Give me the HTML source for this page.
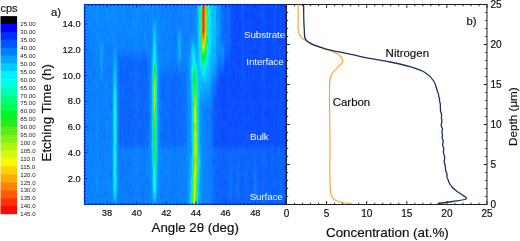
<!DOCTYPE html>
<html lang="en">
<head>
<meta charset="utf-8">
<title>XRD depth profile</title>
<style>
html,body{margin:0;padding:0;background:#fff}
body{width:520px;height:241px;overflow:hidden}
svg{display:block}
svg text{font-family:"Liberation Sans",sans-serif}
.k text,text.k{stroke:#111;stroke-width:.18px}
</style>
</head>
<body>
<svg width="520" height="241" viewBox="0 0 520 241">
<rect width="520" height="241" fill="#fff"/>
<defs><linearGradient id="c0" x1="0" y1="0" x2="0" y2="1"><stop offset=".002" stop-color="#0c90ff"/><stop offset=".321" stop-color="#0c84ff"/><stop offset=".998" stop-color="#0c8bff"/></linearGradient><linearGradient id="c1" x1="0" y1="0" x2="0" y2="1"><stop offset=".002" stop-color="#0c8fff"/><stop offset=".301" stop-color="#0c83ff"/><stop offset=".998" stop-color="#0c89ff"/></linearGradient><linearGradient id="c2" x1="0" y1="0" x2="0" y2="1"><stop offset=".002" stop-color="#0c8cff"/><stop offset=".306" stop-color="#0c80ff"/><stop offset=".998" stop-color="#0c86ff"/></linearGradient><linearGradient id="c3" x1="0" y1="0" x2="0" y2="1"><stop offset=".002" stop-color="#0c8aff"/><stop offset=".301" stop-color="#0c7eff"/><stop offset=".998" stop-color="#0c84ff"/></linearGradient><linearGradient id="c4" x1="0" y1="0" x2="0" y2="1"><stop offset=".002" stop-color="#0c8bff"/><stop offset=".291" stop-color="#0c7fff"/><stop offset=".998" stop-color="#0c85ff"/></linearGradient><linearGradient id="c5" x1="0" y1="0" x2="0" y2="1"><stop offset=".002" stop-color="#0c8cff"/><stop offset=".296" stop-color="#0c80ff"/><stop offset=".998" stop-color="#0c86ff"/></linearGradient><linearGradient id="c6" x1="0" y1="0" x2="0" y2="1"><stop offset=".002" stop-color="#0c8cff"/><stop offset=".301" stop-color="#0c80ff"/><stop offset=".998" stop-color="#0c86ff"/></linearGradient><linearGradient id="c7" x1="0" y1="0" x2="0" y2="1"><stop offset=".002" stop-color="#0c8cff"/><stop offset=".296" stop-color="#0c80ff"/><stop offset=".998" stop-color="#0c86ff"/></linearGradient><linearGradient id="c8" x1="0" y1="0" x2="0" y2="1"><stop offset=".002" stop-color="#0c8cff"/><stop offset=".291" stop-color="#0c80ff"/><stop offset=".998" stop-color="#0c86ff"/></linearGradient><linearGradient id="c9" x1="0" y1="0" x2="0" y2="1"><stop offset=".002" stop-color="#0c8bff"/><stop offset=".306" stop-color="#0c7fff"/><stop offset=".998" stop-color="#0c86ff"/></linearGradient><linearGradient id="c10" x1="0" y1="0" x2="0" y2="1"><stop offset=".002" stop-color="#0c8cff"/><stop offset=".286" stop-color="#0c80ff"/><stop offset=".998" stop-color="#0c86ff"/></linearGradient><linearGradient id="c11" x1="0" y1="0" x2="0" y2="1"><stop offset=".002" stop-color="#0c8eff"/><stop offset=".306" stop-color="#0c82ff"/><stop offset=".998" stop-color="#0c89ff"/></linearGradient><linearGradient id="c12" x1="0" y1="0" x2="0" y2="1"><stop offset=".002" stop-color="#0c90ff"/><stop offset=".321" stop-color="#0c84ff"/><stop offset=".998" stop-color="#0c8bff"/></linearGradient><linearGradient id="c13" x1="0" y1="0" x2="0" y2="1"><stop offset=".002" stop-color="#0c90ff"/><stop offset=".356" stop-color="#0c84ff"/><stop offset=".998" stop-color="#0c8bff"/></linearGradient><linearGradient id="c14" x1="0" y1="0" x2="0" y2="1"><stop offset=".002" stop-color="#0c8eff"/><stop offset=".386" stop-color="#0c82ff"/><stop offset=".998" stop-color="#0c89ff"/></linearGradient><linearGradient id="c15" x1="0" y1="0" x2="0" y2="1"><stop offset=".002" stop-color="#0c8cff"/><stop offset=".226" stop-color="#0c8cff"/><stop offset=".396" stop-color="#0c80ff"/><stop offset=".998" stop-color="#0c86ff"/></linearGradient><linearGradient id="c16" x1="0" y1="0" x2="0" y2="1"><stop offset=".002" stop-color="#0c8bff"/><stop offset=".167" stop-color="#0c88ff"/><stop offset=".241" stop-color="#0c9bff"/><stop offset=".306" stop-color="#0c99ff"/><stop offset=".4" stop-color="#0c7fff"/><stop offset=".998" stop-color="#0c85ff"/></linearGradient><linearGradient id="c17" x1="0" y1="0" x2="0" y2="1"><stop offset=".002" stop-color="#0c8bff"/><stop offset=".167" stop-color="#0c88ff"/><stop offset=".221" stop-color="#0ca9ff"/><stop offset=".261" stop-color="#0ca9ff"/><stop offset=".311" stop-color="#0ca7ff"/><stop offset=".4" stop-color="#0c7fff"/><stop offset=".998" stop-color="#0c85ff"/></linearGradient><linearGradient id="c18" x1="0" y1="0" x2="0" y2="1"><stop offset=".002" stop-color="#0c8cff"/><stop offset=".167" stop-color="#0c89ff"/><stop offset=".216" stop-color="#0c9fff"/><stop offset=".246" stop-color="#0ca0ff"/><stop offset=".316" stop-color="#0c9cff"/><stop offset=".4" stop-color="#0c80ff"/><stop offset=".998" stop-color="#0c86ff"/></linearGradient><linearGradient id="c19" x1="0" y1="0" x2="0" y2="1"><stop offset=".002" stop-color="#0c8bff"/><stop offset=".236" stop-color="#0c8dff"/><stop offset=".396" stop-color="#0c7fff"/><stop offset=".998" stop-color="#0c85ff"/></linearGradient><linearGradient id="c20" x1="0" y1="0" x2="0" y2="1"><stop offset=".002" stop-color="#0c8aff"/><stop offset=".4" stop-color="#0c7eff"/><stop offset=".998" stop-color="#0c85ff"/></linearGradient><linearGradient id="c21" x1="0" y1="0" x2="0" y2="1"><stop offset=".002" stop-color="#0c8dff"/><stop offset=".301" stop-color="#0c81ff"/><stop offset=".998" stop-color="#0c87ff"/></linearGradient><linearGradient id="c22" x1="0" y1="0" x2="0" y2="1"><stop offset=".002" stop-color="#0c8fff"/><stop offset=".296" stop-color="#0c83ff"/><stop offset=".998" stop-color="#0c89ff"/></linearGradient><linearGradient id="c23" x1="0" y1="0" x2="0" y2="1"><stop offset=".002" stop-color="#0c8eff"/><stop offset=".291" stop-color="#0c82ff"/><stop offset=".998" stop-color="#0c88ff"/></linearGradient><linearGradient id="c24" x1="0" y1="0" x2="0" y2="1"><stop offset=".002" stop-color="#0c8bff"/><stop offset=".316" stop-color="#0c7fff"/><stop offset=".998" stop-color="#0c86ff"/></linearGradient><linearGradient id="c25" x1="0" y1="0" x2="0" y2="1"><stop offset=".002" stop-color="#0c8cff"/><stop offset=".291" stop-color="#0c80ff"/><stop offset=".998" stop-color="#0c86ff"/></linearGradient><linearGradient id="c26" x1="0" y1="0" x2="0" y2="1"><stop offset=".002" stop-color="#0c8dff"/><stop offset=".301" stop-color="#0c81ff"/><stop offset=".998" stop-color="#0c87ff"/></linearGradient><linearGradient id="c27" x1="0" y1="0" x2="0" y2="1"><stop offset=".002" stop-color="#0c8cff"/><stop offset=".291" stop-color="#0c82ff"/><stop offset=".998" stop-color="#0c87ff"/></linearGradient><linearGradient id="c28" x1="0" y1="0" x2="0" y2="1"><stop offset=".002" stop-color="#0c8cff"/><stop offset=".226" stop-color="#0c86ff"/><stop offset=".48" stop-color="#0c96ff"/><stop offset=".903" stop-color="#0c9cff"/><stop offset=".998" stop-color="#0c88ff"/></linearGradient><linearGradient id="c29" x1="0" y1="0" x2="0" y2="1"><stop offset=".002" stop-color="#0c8dff"/><stop offset=".201" stop-color="#0c87ff"/><stop offset=".48" stop-color="#0cc5fb"/><stop offset=".898" stop-color="#0ccbfa"/><stop offset=".958" stop-color="#0cb0ff"/><stop offset=".998" stop-color="#0c8cff"/></linearGradient><linearGradient id="c30" x1="0" y1="0" x2="0" y2="1"><stop offset=".002" stop-color="#0c8fff"/><stop offset=".201" stop-color="#0c8aff"/><stop offset=".261" stop-color="#0ca9ff"/><stop offset=".326" stop-color="#0cb8ff"/><stop offset=".42" stop-color="#0ce5ff"/><stop offset=".455" stop-color="#0ceef3"/><stop offset=".48" stop-color="#0cf2eb"/><stop offset=".724" stop-color="#0cf6e7"/><stop offset=".908" stop-color="#0cf4e9"/><stop offset=".953" stop-color="#0cd9ff"/><stop offset=".998" stop-color="#0c92ff"/></linearGradient><linearGradient id="c31" x1="0" y1="0" x2="0" y2="1"><stop offset=".002" stop-color="#0c8fff"/><stop offset=".201" stop-color="#0c8aff"/><stop offset=".261" stop-color="#0ca9ff"/><stop offset=".326" stop-color="#0cb8ff"/><stop offset=".415" stop-color="#0ce3ff"/><stop offset=".46" stop-color="#0ceff1"/><stop offset=".724" stop-color="#0cf6e7"/><stop offset=".908" stop-color="#0cf4e9"/><stop offset=".953" stop-color="#0cd9ff"/><stop offset=".998" stop-color="#0c92ff"/></linearGradient><linearGradient id="c32" x1="0" y1="0" x2="0" y2="1"><stop offset=".002" stop-color="#0c8cff"/><stop offset=".206" stop-color="#0c87ff"/><stop offset=".48" stop-color="#0cc4fb"/><stop offset=".903" stop-color="#0ccafa"/><stop offset=".953" stop-color="#0cb3ff"/><stop offset=".998" stop-color="#0c8bff"/></linearGradient><linearGradient id="c33" x1="0" y1="0" x2="0" y2="1"><stop offset=".002" stop-color="#0c8aff"/><stop offset=".316" stop-color="#0c84ff"/><stop offset=".475" stop-color="#0c92ff"/><stop offset=".903" stop-color="#0c9aff"/><stop offset=".998" stop-color="#0c85ff"/></linearGradient><linearGradient id="c34" x1="0" y1="0" x2="0" y2="1"><stop offset=".002" stop-color="#0c89ff"/><stop offset=".147" stop-color="#0c87ff"/><stop offset=".286" stop-color="#0c76ff"/><stop offset=".699" stop-color="#0c78ff"/><stop offset=".724" stop-color="#0c84ff"/><stop offset=".998" stop-color="#0c81ff"/></linearGradient><linearGradient id="c35" x1="0" y1="0" x2="0" y2="1"><stop offset=".002" stop-color="#0c88ff"/><stop offset=".216" stop-color="#0c81ff"/><stop offset=".291" stop-color="#0c6bff"/><stop offset=".699" stop-color="#0c6bff"/><stop offset=".724" stop-color="#0c7dff"/><stop offset=".998" stop-color="#0c7dff"/></linearGradient><linearGradient id="c36" x1="0" y1="0" x2="0" y2="1"><stop offset=".002" stop-color="#0c89ff"/><stop offset=".216" stop-color="#0c82ff"/><stop offset=".281" stop-color="#0c67ff"/><stop offset=".306" stop-color="#0c65ff"/><stop offset=".699" stop-color="#0c65ff"/><stop offset=".724" stop-color="#0c7cff"/><stop offset=".998" stop-color="#0c7cff"/></linearGradient><linearGradient id="c37" x1="0" y1="0" x2="0" y2="1"><stop offset=".002" stop-color="#0c8bff"/><stop offset=".221" stop-color="#0c84ff"/><stop offset=".296" stop-color="#0c66ff"/><stop offset=".699" stop-color="#0c66ff"/><stop offset=".724" stop-color="#0c7eff"/><stop offset=".998" stop-color="#0c7eff"/></linearGradient><linearGradient id="c38" x1="0" y1="0" x2="0" y2="1"><stop offset=".002" stop-color="#0c8dff"/><stop offset=".221" stop-color="#0c86ff"/><stop offset=".291" stop-color="#0c68ff"/><stop offset=".699" stop-color="#0c68ff"/><stop offset=".729" stop-color="#0c80ff"/><stop offset=".998" stop-color="#0c80ff"/></linearGradient><linearGradient id="c39" x1="0" y1="0" x2="0" y2="1"><stop offset=".002" stop-color="#0c8cff"/><stop offset=".221" stop-color="#0c85ff"/><stop offset=".296" stop-color="#0c67ff"/><stop offset=".699" stop-color="#0c67ff"/><stop offset=".724" stop-color="#0c7fff"/><stop offset=".998" stop-color="#0c7fff"/></linearGradient><linearGradient id="c40" x1="0" y1="0" x2="0" y2="1"><stop offset=".002" stop-color="#0c8bff"/><stop offset=".211" stop-color="#0c85ff"/><stop offset=".291" stop-color="#0c66ff"/><stop offset=".699" stop-color="#0c66ff"/><stop offset=".729" stop-color="#0c7eff"/><stop offset=".998" stop-color="#0c7eff"/></linearGradient><linearGradient id="c41" x1="0" y1="0" x2="0" y2="1"><stop offset=".002" stop-color="#0c8cff"/><stop offset=".216" stop-color="#0c85ff"/><stop offset=".276" stop-color="#0c6aff"/><stop offset=".311" stop-color="#0c66ff"/><stop offset=".699" stop-color="#0c66ff"/><stop offset=".724" stop-color="#0c7eff"/><stop offset=".998" stop-color="#0c7eff"/></linearGradient><linearGradient id="c42" x1="0" y1="0" x2="0" y2="1"><stop offset=".002" stop-color="#0c8bff"/><stop offset=".216" stop-color="#0c84ff"/><stop offset=".291" stop-color="#0c66ff"/><stop offset=".699" stop-color="#0c66ff"/><stop offset=".729" stop-color="#0c7eff"/><stop offset=".998" stop-color="#0c7eff"/></linearGradient><linearGradient id="c43" x1="0" y1="0" x2="0" y2="1"><stop offset=".002" stop-color="#0c89ff"/><stop offset=".221" stop-color="#0c82ff"/><stop offset=".301" stop-color="#0c64ff"/><stop offset=".699" stop-color="#0c64ff"/><stop offset=".724" stop-color="#0c7cff"/><stop offset=".998" stop-color="#0c7cff"/></linearGradient><linearGradient id="c44" x1="0" y1="0" x2="0" y2="1"><stop offset=".002" stop-color="#0c89ff"/><stop offset=".216" stop-color="#0c83ff"/><stop offset=".281" stop-color="#0c66ff"/><stop offset=".311" stop-color="#0c64ff"/><stop offset=".699" stop-color="#0c64ff"/><stop offset=".724" stop-color="#0c7cff"/><stop offset=".998" stop-color="#0c7cff"/></linearGradient><linearGradient id="c45" x1="0" y1="0" x2="0" y2="1"><stop offset=".002" stop-color="#0c8aff"/><stop offset=".221" stop-color="#0c83ff"/><stop offset=".296" stop-color="#0c65ff"/><stop offset=".699" stop-color="#0c65ff"/><stop offset=".724" stop-color="#0c7dff"/><stop offset=".998" stop-color="#0c7dff"/></linearGradient><linearGradient id="c46" x1="0" y1="0" x2="0" y2="1"><stop offset=".002" stop-color="#0c8aff"/><stop offset=".221" stop-color="#0c83ff"/><stop offset=".281" stop-color="#0c67ff"/><stop offset=".306" stop-color="#0c65ff"/><stop offset=".699" stop-color="#0c65ff"/><stop offset=".724" stop-color="#0c7dff"/><stop offset=".998" stop-color="#0c7dff"/></linearGradient><linearGradient id="c47" x1="0" y1="0" x2="0" y2="1"><stop offset=".002" stop-color="#0c89ff"/><stop offset=".216" stop-color="#0c83ff"/><stop offset=".291" stop-color="#0c65ff"/><stop offset=".699" stop-color="#0c65ff"/><stop offset=".729" stop-color="#0c7dff"/><stop offset=".998" stop-color="#0c7dff"/></linearGradient><linearGradient id="c48" x1="0" y1="0" x2="0" y2="1"><stop offset=".002" stop-color="#0c88ff"/><stop offset=".216" stop-color="#0c82ff"/><stop offset=".296" stop-color="#0c64ff"/><stop offset=".699" stop-color="#0c64ff"/><stop offset=".724" stop-color="#0c7cff"/><stop offset=".998" stop-color="#0c7cff"/></linearGradient><linearGradient id="c49" x1="0" y1="0" x2="0" y2="1"><stop offset=".002" stop-color="#0c8aff"/><stop offset=".221" stop-color="#0c84ff"/><stop offset=".301" stop-color="#0c66ff"/><stop offset=".699" stop-color="#0c66ff"/><stop offset=".724" stop-color="#0c7eff"/><stop offset=".998" stop-color="#0c7eff"/></linearGradient><linearGradient id="c50" x1="0" y1="0" x2="0" y2="1"><stop offset=".002" stop-color="#0c8eff"/><stop offset=".221" stop-color="#0c87ff"/><stop offset=".281" stop-color="#0c6bff"/><stop offset=".311" stop-color="#0c69ff"/><stop offset=".699" stop-color="#0c69ff"/><stop offset=".724" stop-color="#0c81ff"/><stop offset=".998" stop-color="#0c81ff"/></linearGradient><linearGradient id="c51" x1="0" y1="0" x2="0" y2="1"><stop offset=".002" stop-color="#0c8fff"/><stop offset=".216" stop-color="#0c89ff"/><stop offset=".291" stop-color="#0c6bff"/><stop offset=".699" stop-color="#0c6bff"/><stop offset=".724" stop-color="#0c83ff"/><stop offset=".998" stop-color="#0c83ff"/></linearGradient><linearGradient id="c52" x1="0" y1="0" x2="0" y2="1"><stop offset=".002" stop-color="#0c8fff"/><stop offset=".221" stop-color="#0c89ff"/><stop offset=".281" stop-color="#0c6dff"/><stop offset=".306" stop-color="#0c6bff"/><stop offset=".699" stop-color="#0c6bff"/><stop offset=".724" stop-color="#0c83ff"/><stop offset=".998" stop-color="#0c83ff"/></linearGradient><linearGradient id="c53" x1="0" y1="0" x2="0" y2="1"><stop offset=".002" stop-color="#0c8fff"/><stop offset=".221" stop-color="#0c89ff"/><stop offset=".281" stop-color="#0c6dff"/><stop offset=".316" stop-color="#0c6bff"/><stop offset=".694" stop-color="#0c6bff"/><stop offset=".724" stop-color="#0c83ff"/><stop offset=".998" stop-color="#0c83ff"/></linearGradient><linearGradient id="c54" x1="0" y1="0" x2="0" y2="1"><stop offset=".002" stop-color="#0c8dff"/><stop offset=".216" stop-color="#0c88ff"/><stop offset=".296" stop-color="#0c6aff"/><stop offset=".699" stop-color="#0c6aff"/><stop offset=".724" stop-color="#0c82ff"/><stop offset=".998" stop-color="#0c82ff"/></linearGradient><linearGradient id="c55" x1="0" y1="0" x2="0" y2="1"><stop offset=".002" stop-color="#0c8bff"/><stop offset=".221" stop-color="#0c85ff"/><stop offset=".291" stop-color="#0c68ff"/><stop offset=".699" stop-color="#0c68ff"/><stop offset=".724" stop-color="#0c80ff"/><stop offset=".998" stop-color="#0c80ff"/></linearGradient><linearGradient id="c56" x1="0" y1="0" x2="0" y2="1"><stop offset=".002" stop-color="#0c89ff"/><stop offset=".216" stop-color="#0c84ff"/><stop offset=".301" stop-color="#0c66ff"/><stop offset=".699" stop-color="#0c66ff"/><stop offset=".724" stop-color="#0c7eff"/><stop offset=".998" stop-color="#0c7eff"/></linearGradient><linearGradient id="c57" x1="0" y1="0" x2="0" y2="1"><stop offset=".002" stop-color="#0c87ff"/><stop offset=".216" stop-color="#0c82ff"/><stop offset=".281" stop-color="#0c66ff"/><stop offset=".316" stop-color="#0c64ff"/><stop offset=".694" stop-color="#0c64ff"/><stop offset=".724" stop-color="#0c7cff"/><stop offset=".998" stop-color="#0c7cff"/></linearGradient><linearGradient id="c58" x1="0" y1="0" x2="0" y2="1"><stop offset=".002" stop-color="#0c86ff"/><stop offset=".216" stop-color="#0c81ff"/><stop offset=".281" stop-color="#0c65ff"/><stop offset=".316" stop-color="#0c63ff"/><stop offset=".694" stop-color="#0c63ff"/><stop offset=".704" stop-color="#0c65ff"/><stop offset=".724" stop-color="#0c7bff"/><stop offset=".998" stop-color="#0c7bff"/></linearGradient><linearGradient id="c59" x1="0" y1="0" x2="0" y2="1"><stop offset=".002" stop-color="#0c87ff"/><stop offset=".221" stop-color="#0c82ff"/><stop offset=".296" stop-color="#0c65ff"/><stop offset=".699" stop-color="#0c65ff"/><stop offset=".724" stop-color="#0c7dff"/><stop offset=".998" stop-color="#0c7dff"/></linearGradient><linearGradient id="c60" x1="0" y1="0" x2="0" y2="1"><stop offset=".002" stop-color="#0c8bff"/><stop offset=".216" stop-color="#0c86ff"/><stop offset=".281" stop-color="#0c6aff"/><stop offset=".316" stop-color="#0c68ff"/><stop offset=".694" stop-color="#0c68ff"/><stop offset=".724" stop-color="#0c80ff"/><stop offset=".998" stop-color="#0c80ff"/></linearGradient><linearGradient id="c61" x1="0" y1="0" x2="0" y2="1"><stop offset=".002" stop-color="#0c8cff"/><stop offset=".221" stop-color="#0c87ff"/><stop offset=".281" stop-color="#0c6cff"/><stop offset=".316" stop-color="#0c6aff"/><stop offset=".694" stop-color="#0c6aff"/><stop offset=".724" stop-color="#0c82ff"/><stop offset=".998" stop-color="#0c82ff"/></linearGradient><linearGradient id="c62" x1="0" y1="0" x2="0" y2="1"><stop offset=".002" stop-color="#0c8cff"/><stop offset=".221" stop-color="#0c87ff"/><stop offset=".291" stop-color="#0c6bff"/><stop offset=".699" stop-color="#0c6bff"/><stop offset=".724" stop-color="#0c83ff"/><stop offset=".998" stop-color="#0c82ff"/></linearGradient><linearGradient id="c63" x1="0" y1="0" x2="0" y2="1"><stop offset=".002" stop-color="#0c8bff"/><stop offset=".216" stop-color="#0c87ff"/><stop offset=".291" stop-color="#0c6dff"/><stop offset=".699" stop-color="#0c6dff"/><stop offset=".724" stop-color="#0c84ff"/><stop offset=".998" stop-color="#0c82ff"/></linearGradient><linearGradient id="c64" x1="0" y1="0" x2="0" y2="1"><stop offset=".002" stop-color="#0c89ff"/><stop offset=".216" stop-color="#0c86ff"/><stop offset=".281" stop-color="#0c74ff"/><stop offset=".699" stop-color="#0c74ff"/><stop offset=".724" stop-color="#0c86ff"/><stop offset=".998" stop-color="#0c83ff"/></linearGradient><linearGradient id="c65" x1="0" y1="0" x2="0" y2="1"><stop offset=".002" stop-color="#0c88ff"/><stop offset=".211" stop-color="#0c86ff"/><stop offset=".281" stop-color="#0c7dff"/><stop offset=".699" stop-color="#0c7eff"/><stop offset=".729" stop-color="#0c8bff"/><stop offset=".998" stop-color="#0c85ff"/></linearGradient><linearGradient id="c66" x1="0" y1="0" x2="0" y2="1"><stop offset=".002" stop-color="#0c88ff"/><stop offset=".699" stop-color="#0c8aff"/><stop offset=".744" stop-color="#0c92ff"/><stop offset=".998" stop-color="#0c86ff"/></linearGradient><linearGradient id="c67" x1="0" y1="0" x2="0" y2="1"><stop offset=".002" stop-color="#0c87ff"/><stop offset=".192" stop-color="#0c8aff"/><stop offset=".415" stop-color="#0ca7fe"/><stop offset=".669" stop-color="#0c9fff"/><stop offset=".729" stop-color="#0ca5ff"/><stop offset=".998" stop-color="#0c87ff"/></linearGradient><linearGradient id="c68" x1="0" y1="0" x2="0" y2="1"><stop offset=".002" stop-color="#0c89ff"/><stop offset=".177" stop-color="#0c9cff"/><stop offset=".281" stop-color="#0cb6fe"/><stop offset=".331" stop-color="#0ad1e8"/><stop offset=".405" stop-color="#0fe1d9"/><stop offset=".729" stop-color="#0ad5e8"/><stop offset=".818" stop-color="#0cc2fa"/><stop offset=".923" stop-color="#0cafff"/><stop offset=".998" stop-color="#0c8cff"/></linearGradient><linearGradient id="c69" x1="0" y1="0" x2="0" y2="1"><stop offset=".002" stop-color="#0c8aff"/><stop offset=".057" stop-color="#0c8aff"/><stop offset=".122" stop-color="#0cadff"/><stop offset=".266" stop-color="#0ce6f7"/><stop offset=".291" stop-color="#0aeee3"/><stop offset=".311" stop-color="#03f5ae"/><stop offset=".331" stop-color="#0af57f"/><stop offset=".386" stop-color="#22f346"/><stop offset=".415" stop-color="#3fef3d"/><stop offset=".46" stop-color="#3fef3d"/><stop offset=".495" stop-color="#3eef3e"/><stop offset=".55" stop-color="#1df44b"/><stop offset=".624" stop-color="#0ff571"/><stop offset=".729" stop-color="#09f57e"/><stop offset=".789" stop-color="#02f6ba"/><stop offset=".823" stop-color="#0af3da"/><stop offset=".888" stop-color="#0be9f3"/><stop offset=".928" stop-color="#0cdefb"/><stop offset=".958" stop-color="#0cc4ff"/><stop offset=".998" stop-color="#0c92ff"/></linearGradient><linearGradient id="c70" x1="0" y1="0" x2="0" y2="1"><stop offset=".002" stop-color="#0c88ff"/><stop offset=".062" stop-color="#0c8bff"/><stop offset=".137" stop-color="#0cc4ff"/><stop offset=".206" stop-color="#0ce5ff"/><stop offset=".236" stop-color="#0cf0f4"/><stop offset=".261" stop-color="#0cf9e3"/><stop offset=".286" stop-color="#04fdc5"/><stop offset=".296" stop-color="#03fea5"/><stop offset=".311" stop-color="#01fc64"/><stop offset=".321" stop-color="#0bf643"/><stop offset=".331" stop-color="#1ff234"/><stop offset=".366" stop-color="#57f41f"/><stop offset=".405" stop-color="#a7f60f"/><stop offset=".46" stop-color="#aef60d"/><stop offset=".5" stop-color="#aaf60e"/><stop offset=".545" stop-color="#77f417"/><stop offset=".619" stop-color="#35f32b"/><stop offset=".729" stop-color="#1ef233"/><stop offset=".754" stop-color="#02f847"/><stop offset=".838" stop-color="#04feb9"/><stop offset=".918" stop-color="#0cf9e6"/><stop offset=".953" stop-color="#0ce1fe"/><stop offset=".998" stop-color="#0c94ff"/></linearGradient><linearGradient id="c71" x1="0" y1="0" x2="0" y2="1"><stop offset=".002" stop-color="#0c88ff"/><stop offset=".057" stop-color="#0c88ff"/><stop offset=".127" stop-color="#0cb2ff"/><stop offset=".256" stop-color="#0ce9f7"/><stop offset=".286" stop-color="#0af2e2"/><stop offset=".296" stop-color="#08f5cb"/><stop offset=".311" stop-color="#02f899"/><stop offset=".326" stop-color="#07f86e"/><stop offset=".356" stop-color="#14f449"/><stop offset=".41" stop-color="#62f338"/><stop offset=".46" stop-color="#64f338"/><stop offset=".5" stop-color="#61f238"/><stop offset=".545" stop-color="#37ef3c"/><stop offset=".6" stop-color="#13f44a"/><stop offset=".629" stop-color="#0ff757"/><stop offset=".724" stop-color="#0af961"/><stop offset=".759" stop-color="#02f987"/><stop offset=".838" stop-color="#0af5da"/><stop offset=".913" stop-color="#0cebf4"/><stop offset=".933" stop-color="#0ce3fb"/><stop offset=".958" stop-color="#0ccaff"/><stop offset=".998" stop-color="#0c91ff"/></linearGradient><linearGradient id="c72" x1="0" y1="0" x2="0" y2="1"><stop offset=".002" stop-color="#0c89ff"/><stop offset=".057" stop-color="#0c89ff"/><stop offset=".281" stop-color="#0cc0fc"/><stop offset=".331" stop-color="#0ae1e1"/><stop offset=".41" stop-color="#19edc6"/><stop offset=".495" stop-color="#19edc6"/><stop offset=".614" stop-color="#0ae5dd"/><stop offset=".724" stop-color="#0ae5e1"/><stop offset=".833" stop-color="#0ccaf9"/><stop offset=".923" stop-color="#0cb9fe"/><stop offset=".998" stop-color="#0c8dff"/></linearGradient><linearGradient id="c73" x1="0" y1="0" x2="0" y2="1"><stop offset=".002" stop-color="#0c8aff"/><stop offset=".177" stop-color="#0c8eff"/><stop offset=".41" stop-color="#0cb3fa"/><stop offset=".664" stop-color="#0cabff"/><stop offset=".724" stop-color="#0cb1ff"/><stop offset=".998" stop-color="#0c8bff"/></linearGradient><linearGradient id="c74" x1="0" y1="0" x2="0" y2="1"><stop offset=".002" stop-color="#0c89ff"/><stop offset=".699" stop-color="#0c90ff"/><stop offset=".719" stop-color="#0c97ff"/><stop offset=".998" stop-color="#0c8aff"/></linearGradient><linearGradient id="c75" x1="0" y1="0" x2="0" y2="1"><stop offset=".002" stop-color="#0c88ff"/><stop offset=".998" stop-color="#0c88ff"/></linearGradient><linearGradient id="c76" x1="0" y1="0" x2="0" y2="1"><stop offset=".002" stop-color="#0c87ff"/><stop offset=".281" stop-color="#0c86ff"/><stop offset=".371" stop-color="#0c79ff"/><stop offset=".699" stop-color="#0c79ff"/><stop offset=".724" stop-color="#0c88ff"/><stop offset=".998" stop-color="#0c85ff"/></linearGradient><linearGradient id="c77" x1="0" y1="0" x2="0" y2="1"><stop offset=".002" stop-color="#0c85ff"/><stop offset=".281" stop-color="#0c83ff"/><stop offset=".366" stop-color="#0c71ff"/><stop offset=".699" stop-color="#0c71ff"/><stop offset=".724" stop-color="#0c83ff"/><stop offset=".998" stop-color="#0c82ff"/></linearGradient><linearGradient id="c78" x1="0" y1="0" x2="0" y2="1"><stop offset=".002" stop-color="#0c84ff"/><stop offset=".286" stop-color="#0c81ff"/><stop offset=".376" stop-color="#0c6dff"/><stop offset=".699" stop-color="#0c6dff"/><stop offset=".724" stop-color="#0c81ff"/><stop offset=".998" stop-color="#0c80ff"/></linearGradient><linearGradient id="c79" x1="0" y1="0" x2="0" y2="1"><stop offset=".002" stop-color="#0c85ff"/><stop offset=".286" stop-color="#0c81ff"/><stop offset=".371" stop-color="#0c6dff"/><stop offset=".699" stop-color="#0c6dff"/><stop offset=".724" stop-color="#0c81ff"/><stop offset=".998" stop-color="#0c81ff"/></linearGradient><linearGradient id="c80" x1="0" y1="0" x2="0" y2="1"><stop offset=".002" stop-color="#0c84ff"/><stop offset=".281" stop-color="#0c81ff"/><stop offset=".381" stop-color="#0c6cff"/><stop offset=".694" stop-color="#0c6cff"/><stop offset=".724" stop-color="#0c80ff"/><stop offset=".998" stop-color="#0c80ff"/></linearGradient><linearGradient id="c81" x1="0" y1="0" x2="0" y2="1"><stop offset=".002" stop-color="#0c84ff"/><stop offset=".286" stop-color="#0c81ff"/><stop offset=".371" stop-color="#0c6dff"/><stop offset=".699" stop-color="#0c6dff"/><stop offset=".724" stop-color="#0c81ff"/><stop offset=".998" stop-color="#0c81ff"/></linearGradient><linearGradient id="c82" x1="0" y1="0" x2="0" y2="1"><stop offset=".002" stop-color="#0c84ff"/><stop offset=".276" stop-color="#0c82ff"/><stop offset=".376" stop-color="#0c6dff"/><stop offset=".699" stop-color="#0c6dff"/><stop offset=".724" stop-color="#0c81ff"/><stop offset=".998" stop-color="#0c81ff"/></linearGradient><linearGradient id="c83" x1="0" y1="0" x2="0" y2="1"><stop offset=".002" stop-color="#0c84ff"/><stop offset=".281" stop-color="#0c81ff"/><stop offset=".371" stop-color="#0c6dff"/><stop offset=".699" stop-color="#0c6dff"/><stop offset=".724" stop-color="#0c81ff"/><stop offset=".998" stop-color="#0c81ff"/></linearGradient><linearGradient id="c84" x1="0" y1="0" x2="0" y2="1"><stop offset=".002" stop-color="#0c84ff"/><stop offset=".281" stop-color="#0c82ff"/><stop offset=".371" stop-color="#0c6eff"/><stop offset=".699" stop-color="#0c6eff"/><stop offset=".729" stop-color="#0c82ff"/><stop offset=".998" stop-color="#0c82ff"/></linearGradient><linearGradient id="c85" x1="0" y1="0" x2="0" y2="1"><stop offset=".002" stop-color="#0c85ff"/><stop offset=".281" stop-color="#0c83ff"/><stop offset=".371" stop-color="#0c6fff"/><stop offset=".699" stop-color="#0c6fff"/><stop offset=".729" stop-color="#0c83ff"/><stop offset=".998" stop-color="#0c83ff"/></linearGradient><linearGradient id="c86" x1="0" y1="0" x2="0" y2="1"><stop offset=".002" stop-color="#0c83ff"/><stop offset=".286" stop-color="#0c81ff"/><stop offset=".371" stop-color="#0c6dff"/><stop offset=".699" stop-color="#0c6dff"/><stop offset=".724" stop-color="#0c81ff"/><stop offset=".998" stop-color="#0c81ff"/></linearGradient><linearGradient id="c87" x1="0" y1="0" x2="0" y2="1"><stop offset=".002" stop-color="#0c7fff"/><stop offset=".286" stop-color="#0c7dff"/><stop offset=".376" stop-color="#0c69ff"/><stop offset=".699" stop-color="#0c69ff"/><stop offset=".724" stop-color="#0c7dff"/><stop offset=".998" stop-color="#0c7dff"/></linearGradient><linearGradient id="c88" x1="0" y1="0" x2="0" y2="1"><stop offset=".002" stop-color="#0c7dff"/><stop offset=".286" stop-color="#0c7bff"/><stop offset=".371" stop-color="#0c67ff"/><stop offset=".699" stop-color="#0c67ff"/><stop offset=".724" stop-color="#0c7bff"/><stop offset=".998" stop-color="#0c7bff"/></linearGradient><linearGradient id="c89" x1="0" y1="0" x2="0" y2="1"><stop offset=".002" stop-color="#0c7eff"/><stop offset=".286" stop-color="#0c7cff"/><stop offset=".376" stop-color="#0c68ff"/><stop offset=".699" stop-color="#0c68ff"/><stop offset=".724" stop-color="#0c7cff"/><stop offset=".998" stop-color="#0c7cff"/></linearGradient><linearGradient id="c90" x1="0" y1="0" x2="0" y2="1"><stop offset=".002" stop-color="#0c80ff"/><stop offset=".286" stop-color="#0c7eff"/><stop offset=".376" stop-color="#0c6aff"/><stop offset=".699" stop-color="#0c6aff"/><stop offset=".724" stop-color="#0c7eff"/><stop offset=".998" stop-color="#0c7eff"/></linearGradient><linearGradient id="c91" x1="0" y1="0" x2="0" y2="1"><stop offset=".002" stop-color="#0c80ff"/><stop offset=".286" stop-color="#0c7fff"/><stop offset=".371" stop-color="#0c6bff"/><stop offset=".699" stop-color="#0c6bff"/><stop offset=".724" stop-color="#0c7fff"/><stop offset=".998" stop-color="#0c7fff"/></linearGradient><linearGradient id="c92" x1="0" y1="0" x2="0" y2="1"><stop offset=".002" stop-color="#0c80ff"/><stop offset=".276" stop-color="#0c82ff"/><stop offset=".376" stop-color="#0c6bff"/><stop offset=".699" stop-color="#0c6bff"/><stop offset=".724" stop-color="#0c7fff"/><stop offset=".998" stop-color="#0c7fff"/></linearGradient><linearGradient id="c93" x1="0" y1="0" x2="0" y2="1"><stop offset=".002" stop-color="#0c81ff"/><stop offset=".107" stop-color="#0c81ff"/><stop offset=".172" stop-color="#0c90ff"/><stop offset=".256" stop-color="#0c90ff"/><stop offset=".376" stop-color="#0c6cff"/><stop offset=".699" stop-color="#0c6cff"/><stop offset=".724" stop-color="#0c80ff"/><stop offset=".998" stop-color="#0c80ff"/></linearGradient><linearGradient id="c94" x1="0" y1="0" x2="0" y2="1"><stop offset=".002" stop-color="#0c81ff"/><stop offset=".102" stop-color="#0c81ff"/><stop offset=".172" stop-color="#0ca9ff"/><stop offset=".221" stop-color="#0caaff"/><stop offset=".256" stop-color="#0ca9ff"/><stop offset=".331" stop-color="#0c76ff"/><stop offset=".376" stop-color="#0c6cff"/><stop offset=".699" stop-color="#0c6cff"/><stop offset=".724" stop-color="#0c80ff"/><stop offset=".998" stop-color="#0c80ff"/></linearGradient><linearGradient id="c95" x1="0" y1="0" x2="0" y2="1"><stop offset=".002" stop-color="#0c82ff"/><stop offset=".107" stop-color="#0c83ff"/><stop offset=".172" stop-color="#0cb9ff"/><stop offset=".246" stop-color="#0cbaff"/><stop offset=".261" stop-color="#0cb7ff"/><stop offset=".326" stop-color="#0c7aff"/><stop offset=".371" stop-color="#0c6dff"/><stop offset=".699" stop-color="#0c6dff"/><stop offset=".724" stop-color="#0c81ff"/><stop offset=".998" stop-color="#0c81ff"/></linearGradient><linearGradient id="c96" x1="0" y1="0" x2="0" y2="1"><stop offset=".002" stop-color="#0c82ff"/><stop offset=".107" stop-color="#0c82ff"/><stop offset=".172" stop-color="#0caaff"/><stop offset=".251" stop-color="#0caaff"/><stop offset=".281" stop-color="#0c9dff"/><stop offset=".331" stop-color="#0c77ff"/><stop offset=".371" stop-color="#0c6dff"/><stop offset=".699" stop-color="#0c6dff"/><stop offset=".724" stop-color="#0c81ff"/><stop offset=".998" stop-color="#0c81ff"/></linearGradient><linearGradient id="c97" x1="0" y1="0" x2="0" y2="1"><stop offset=".002" stop-color="#0c81ff"/><stop offset=".107" stop-color="#0c81ff"/><stop offset=".172" stop-color="#0c90ff"/><stop offset=".256" stop-color="#0c90ff"/><stop offset=".381" stop-color="#0c6cff"/><stop offset=".694" stop-color="#0c6cff"/><stop offset=".724" stop-color="#0c80ff"/><stop offset=".998" stop-color="#0c81ff"/></linearGradient><linearGradient id="c98" x1="0" y1="0" x2="0" y2="1"><stop offset=".002" stop-color="#0c82ff"/><stop offset=".276" stop-color="#0c85ff"/><stop offset=".376" stop-color="#0c6eff"/><stop offset=".699" stop-color="#0c6eff"/><stop offset=".724" stop-color="#0c82ff"/><stop offset=".998" stop-color="#0c82ff"/></linearGradient><linearGradient id="c99" x1="0" y1="0" x2="0" y2="1"><stop offset=".002" stop-color="#0c85ff"/><stop offset=".271" stop-color="#0c86ff"/><stop offset=".376" stop-color="#0c71ff"/><stop offset=".699" stop-color="#0c71ff"/><stop offset=".724" stop-color="#0c85ff"/><stop offset=".998" stop-color="#0c85ff"/></linearGradient><linearGradient id="c100" x1="0" y1="0" x2="0" y2="1"><stop offset=".002" stop-color="#0c83ff"/><stop offset=".281" stop-color="#0c85ff"/><stop offset=".376" stop-color="#0c71ff"/><stop offset=".699" stop-color="#0c71ff"/><stop offset=".724" stop-color="#0c84ff"/><stop offset=".998" stop-color="#0c85ff"/></linearGradient><linearGradient id="c101" x1="0" y1="0" x2="0" y2="1"><stop offset=".002" stop-color="#0c80ff"/><stop offset=".291" stop-color="#0c83ff"/><stop offset=".376" stop-color="#0c73ff"/><stop offset=".699" stop-color="#0c72ff"/><stop offset=".724" stop-color="#0c83ff"/><stop offset=".998" stop-color="#0c85ff"/></linearGradient><linearGradient id="c102" x1="0" y1="0" x2="0" y2="1"><stop offset=".002" stop-color="#0c81ff"/><stop offset=".296" stop-color="#0c86ff"/><stop offset=".376" stop-color="#0c7bff"/><stop offset=".699" stop-color="#0c79ff"/><stop offset=".724" stop-color="#0c86ff"/><stop offset=".998" stop-color="#0c8aff"/></linearGradient><linearGradient id="c103" x1="0" y1="0" x2="0" y2="1"><stop offset=".002" stop-color="#0c83ff"/><stop offset=".276" stop-color="#0c8cff"/><stop offset=".699" stop-color="#0c83ff"/><stop offset=".724" stop-color="#0c8dff"/><stop offset=".998" stop-color="#0c93ff"/></linearGradient><linearGradient id="c104" x1="0" y1="0" x2="0" y2="1"><stop offset=".002" stop-color="#0c83ff"/><stop offset=".172" stop-color="#0c84ff"/><stop offset=".311" stop-color="#0c94ff"/><stop offset=".699" stop-color="#0c8bff"/><stop offset=".724" stop-color="#0c93ff"/><stop offset=".998" stop-color="#0c9fff"/></linearGradient><linearGradient id="c105" x1="0" y1="0" x2="0" y2="1"><stop offset=".002" stop-color="#0c82ff"/><stop offset=".142" stop-color="#0c82ff"/><stop offset=".321" stop-color="#0c9dff"/><stop offset=".699" stop-color="#0c91ff"/><stop offset=".998" stop-color="#0cb3ff"/></linearGradient><linearGradient id="c106" x1="0" y1="0" x2="0" y2="1"><stop offset=".002" stop-color="#0c80ff"/><stop offset=".142" stop-color="#0c81ff"/><stop offset=".231" stop-color="#0ca0ff"/><stop offset=".326" stop-color="#0cafff"/><stop offset=".485" stop-color="#0c9cff"/><stop offset=".694" stop-color="#0c9aff"/><stop offset=".843" stop-color="#0cadff"/><stop offset=".998" stop-color="#0ad5f4"/></linearGradient><linearGradient id="c107" x1="0" y1="0" x2="0" y2="1"><stop offset=".002" stop-color="#0c81ff"/><stop offset=".137" stop-color="#0c81ff"/><stop offset=".211" stop-color="#0cb1ff"/><stop offset=".326" stop-color="#0cd3f9"/><stop offset=".475" stop-color="#0cb8fe"/><stop offset=".679" stop-color="#0cb2ff"/><stop offset=".799" stop-color="#0cc4fd"/><stop offset=".913" stop-color="#0ae8e6"/><stop offset=".998" stop-color="#0af5ae"/></linearGradient><linearGradient id="c108" x1="0" y1="0" x2="0" y2="1"><stop offset=".002" stop-color="#0c83ff"/><stop offset=".137" stop-color="#0c84ff"/><stop offset=".216" stop-color="#0cc9ff"/><stop offset=".271" stop-color="#0ce8fc"/><stop offset=".321" stop-color="#0af7d6"/><stop offset=".351" stop-color="#0af7c4"/><stop offset=".475" stop-color="#0ae9e1"/><stop offset=".55" stop-color="#0ae9db"/><stop offset=".674" stop-color="#0ae1e4"/><stop offset=".799" stop-color="#0aeed8"/><stop offset=".863" stop-color="#0df5aa"/><stop offset=".958" stop-color="#25f843"/><stop offset=".998" stop-color="#42f132"/></linearGradient><linearGradient id="c109" x1="0" y1="0" x2="0" y2="1"><stop offset=".002" stop-color="#0c85ff"/><stop offset=".142" stop-color="#0c87ff"/><stop offset=".182" stop-color="#0ca3ff"/><stop offset=".256" stop-color="#0cecfd"/><stop offset=".271" stop-color="#0cf5f4"/><stop offset=".291" stop-color="#0afdd8"/><stop offset=".311" stop-color="#02feb1"/><stop offset=".336" stop-color="#02ff72"/><stop offset=".356" stop-color="#03fd5b"/><stop offset=".475" stop-color="#17fa68"/><stop offset=".55" stop-color="#23f955"/><stop offset=".679" stop-color="#1ef96e"/><stop offset=".729" stop-color="#23fb5d"/><stop offset=".803" stop-color="#23fb57"/><stop offset=".828" stop-color="#2bf73f"/><stop offset=".938" stop-color="#a5f315"/><stop offset=".998" stop-color="#c0f80b"/></linearGradient><linearGradient id="c110" x1="0" y1="0" x2="0" y2="1"><stop offset=".002" stop-color="#0c87ff"/><stop offset=".147" stop-color="#0c8aff"/><stop offset=".182" stop-color="#0c99ff"/><stop offset=".266" stop-color="#0ce7fd"/><stop offset=".286" stop-color="#0cf7ea"/><stop offset=".301" stop-color="#08fdcf"/><stop offset=".346" stop-color="#00fa44"/><stop offset=".361" stop-color="#08f631"/><stop offset=".386" stop-color="#1cf125"/><stop offset=".515" stop-color="#97f818"/><stop offset=".545" stop-color="#abf813"/><stop offset=".669" stop-color="#99f61b"/><stop offset=".729" stop-color="#acf015"/><stop offset=".799" stop-color="#abef15"/><stop offset=".858" stop-color="#d8f105"/><stop offset=".923" stop-color="#e6e405"/><stop offset=".973" stop-color="#dbf506"/><stop offset=".998" stop-color="#c5f80a"/></linearGradient><linearGradient id="c111" x1="0" y1="0" x2="0" y2="1"><stop offset=".002" stop-color="#0c8eff"/><stop offset=".177" stop-color="#0c93ff"/><stop offset=".246" stop-color="#0cbbff"/><stop offset=".291" stop-color="#0ce5fa"/><stop offset=".316" stop-color="#0af7da"/><stop offset=".351" stop-color="#02fc7b"/><stop offset=".381" stop-color="#06f745"/><stop offset=".4" stop-color="#16f233"/><stop offset=".465" stop-color="#72f317"/><stop offset=".5" stop-color="#aaf60f"/><stop offset=".54" stop-color="#d5f607"/><stop offset=".674" stop-color="#daf106"/><stop offset=".724" stop-color="#ead605"/><stop offset=".774" stop-color="#eed104"/><stop offset=".828" stop-color="#ecd704"/><stop offset=".888" stop-color="#d8f305"/><stop offset=".943" stop-color="#9ef318"/><stop offset=".998" stop-color="#4bf130"/></linearGradient><linearGradient id="c112" x1="0" y1="0" x2="0" y2="1"><stop offset=".002" stop-color="#0c99ff"/><stop offset=".192" stop-color="#0c9dff"/><stop offset=".256" stop-color="#0cb3ff"/><stop offset=".311" stop-color="#0cd8fc"/><stop offset=".336" stop-color="#0aeded"/><stop offset=".356" stop-color="#0af6d5"/><stop offset=".4" stop-color="#05f899"/><stop offset=".46" stop-color="#18f84a"/><stop offset=".49" stop-color="#3af135"/><stop offset=".545" stop-color="#6ef32b"/><stop offset=".674" stop-color="#88f422"/><stop offset=".724" stop-color="#adf115"/><stop offset=".794" stop-color="#c1ef0b"/><stop offset=".808" stop-color="#baef0e"/><stop offset=".918" stop-color="#28f740"/><stop offset=".998" stop-color="#0cf6a6"/></linearGradient><linearGradient id="c113" x1="0" y1="0" x2="0" y2="1"><stop offset=".002" stop-color="#0caaff"/><stop offset=".231" stop-color="#0cafff"/><stop offset=".291" stop-color="#0cbcff"/><stop offset=".361" stop-color="#0cd9fa"/><stop offset=".415" stop-color="#0ae9ea"/><stop offset=".465" stop-color="#0bf4c6"/><stop offset=".545" stop-color="#14f59b"/><stop offset=".679" stop-color="#1bf77f"/><stop offset=".729" stop-color="#24fb5a"/><stop offset=".799" stop-color="#29f73f"/><stop offset=".888" stop-color="#0cf5ab"/><stop offset=".908" stop-color="#0df4bf"/><stop offset=".958" stop-color="#0ae9e5"/><stop offset=".998" stop-color="#0ad9f2"/></linearGradient><linearGradient id="c114" x1="0" y1="0" x2="0" y2="1"><stop offset=".002" stop-color="#0cc4ff"/><stop offset=".43" stop-color="#0cc7fe"/><stop offset=".684" stop-color="#0adce8"/><stop offset=".719" stop-color="#0aeadf"/><stop offset=".799" stop-color="#0bf3c9"/><stop offset=".843" stop-color="#0ae9e6"/><stop offset=".878" stop-color="#0adaf1"/><stop offset=".998" stop-color="#0cb4ff"/></linearGradient><linearGradient id="c115" x1="0" y1="0" x2="0" y2="1"><stop offset=".002" stop-color="#0ae6ed"/><stop offset=".182" stop-color="#0ae4f2"/><stop offset=".291" stop-color="#0cd2ff"/><stop offset=".51" stop-color="#0caaff"/><stop offset=".674" stop-color="#0cb0ff"/><stop offset=".799" stop-color="#0ccdfa"/><stop offset=".998" stop-color="#0c9fff"/></linearGradient><linearGradient id="c116" x1="0" y1="0" x2="0" y2="1"><stop offset=".002" stop-color="#18f993"/><stop offset=".157" stop-color="#14f899"/><stop offset=".197" stop-color="#08f7af"/><stop offset=".266" stop-color="#0af2e5"/><stop offset=".291" stop-color="#0becf6"/><stop offset=".326" stop-color="#0cdaff"/><stop offset=".42" stop-color="#0cb1ff"/><stop offset=".515" stop-color="#0c99ff"/><stop offset=".684" stop-color="#0c9bff"/><stop offset=".803" stop-color="#0cadff"/><stop offset=".998" stop-color="#0c96ff"/></linearGradient><linearGradient id="c117" x1="0" y1="0" x2="0" y2="1"><stop offset=".002" stop-color="#82db27"/><stop offset=".142" stop-color="#7ddd28"/><stop offset=".167" stop-color="#68e42c"/><stop offset=".206" stop-color="#2df539"/><stop offset=".226" stop-color="#19fb52"/><stop offset=".266" stop-color="#03fc92"/><stop offset=".306" stop-color="#0af7e4"/><stop offset=".331" stop-color="#0ce9fd"/><stop offset=".371" stop-color="#0cc9ff"/><stop offset=".415" stop-color="#0cb3ff"/><stop offset=".52" stop-color="#0c8fff"/><stop offset=".679" stop-color="#0c90ff"/><stop offset=".774" stop-color="#0c9bff"/><stop offset=".998" stop-color="#0c8fff"/></linearGradient><linearGradient id="c118" x1="0" y1="0" x2="0" y2="1"><stop offset=".002" stop-color="#ea6804"/><stop offset=".137" stop-color="#e96d04"/><stop offset=".157" stop-color="#e68804"/><stop offset=".192" stop-color="#d7e205"/><stop offset=".211" stop-color="#abf70f"/><stop offset=".256" stop-color="#1ef12e"/><stop offset=".276" stop-color="#02fa49"/><stop offset=".306" stop-color="#03feb8"/><stop offset=".321" stop-color="#0bfbe2"/><stop offset=".346" stop-color="#0ce9fe"/><stop offset=".371" stop-color="#0cceff"/><stop offset=".425" stop-color="#0caeff"/><stop offset=".525" stop-color="#0c89ff"/><stop offset=".749" stop-color="#0c92ff"/><stop offset=".998" stop-color="#0c8bff"/></linearGradient><linearGradient id="c119" x1="0" y1="0" x2="0" y2="1"><stop offset=".002" stop-color="#ff2900"/><stop offset=".137" stop-color="#ff2d00"/><stop offset=".157" stop-color="#ff4f00"/><stop offset=".192" stop-color="#fbc301"/><stop offset=".206" stop-color="#ebec04"/><stop offset=".216" stop-color="#d2f809"/><stop offset=".256" stop-color="#35ee1b"/><stop offset=".276" stop-color="#08f62d"/><stop offset=".286" stop-color="#00fc4c"/><stop offset=".301" stop-color="#00ff90"/><stop offset=".321" stop-color="#09fed7"/><stop offset=".331" stop-color="#0cf9ed"/><stop offset=".346" stop-color="#0ceefd"/><stop offset=".366" stop-color="#0cd5ff"/><stop offset=".425" stop-color="#0caeff"/><stop offset=".525" stop-color="#0c86ff"/><stop offset=".754" stop-color="#0c8eff"/><stop offset=".998" stop-color="#0c8aff"/></linearGradient><linearGradient id="c120" x1="0" y1="0" x2="0" y2="1"><stop offset=".002" stop-color="#ff6a00"/><stop offset=".132" stop-color="#fe7100"/><stop offset=".157" stop-color="#fc9601"/><stop offset=".182" stop-color="#f1d403"/><stop offset=".201" stop-color="#ccf20a"/><stop offset=".256" stop-color="#18f227"/><stop offset=".276" stop-color="#02fb4a"/><stop offset=".306" stop-color="#04ffba"/><stop offset=".316" stop-color="#0afdd7"/><stop offset=".331" stop-color="#0cf5f3"/><stop offset=".346" stop-color="#0ceafe"/><stop offset=".376" stop-color="#0ccbff"/><stop offset=".425" stop-color="#0cacff"/><stop offset=".52" stop-color="#0c84ff"/><stop offset=".998" stop-color="#0c89ff"/></linearGradient><linearGradient id="c121" x1="0" y1="0" x2="0" y2="1"><stop offset=".002" stop-color="#e5bf04"/><stop offset=".127" stop-color="#e2c905"/><stop offset=".152" stop-color="#d8e305"/><stop offset=".182" stop-color="#a4f20f"/><stop offset=".226" stop-color="#2ef128"/><stop offset=".241" stop-color="#0ef639"/><stop offset=".256" stop-color="#03fc59"/><stop offset=".306" stop-color="#0afbde"/><stop offset=".336" stop-color="#0ce9fe"/><stop offset=".425" stop-color="#0ca9ff"/><stop offset=".525" stop-color="#0c81ff"/><stop offset=".998" stop-color="#0c87ff"/></linearGradient><linearGradient id="c122" x1="0" y1="0" x2="0" y2="1"><stop offset=".002" stop-color="#6deb2c"/><stop offset=".132" stop-color="#61ed2d"/><stop offset=".152" stop-color="#50f12f"/><stop offset=".187" stop-color="#20f63b"/><stop offset=".246" stop-color="#02fd98"/><stop offset=".286" stop-color="#0afbde"/><stop offset=".316" stop-color="#0ceafc"/><stop offset=".42" stop-color="#0ca7ff"/><stop offset=".525" stop-color="#0c7fff"/><stop offset=".998" stop-color="#0c85ff"/></linearGradient><linearGradient id="c123" x1="0" y1="0" x2="0" y2="1"><stop offset=".002" stop-color="#13fb9b"/><stop offset=".127" stop-color="#11fb9d"/><stop offset=".167" stop-color="#08fba5"/><stop offset=".221" stop-color="#0afdcf"/><stop offset=".281" stop-color="#0cf0f8"/><stop offset=".311" stop-color="#0cdfff"/><stop offset=".43" stop-color="#0c9eff"/><stop offset=".525" stop-color="#0c7eff"/><stop offset=".998" stop-color="#0c84ff"/></linearGradient><linearGradient id="c124" x1="0" y1="0" x2="0" y2="1"><stop offset=".002" stop-color="#0af9e3"/><stop offset=".157" stop-color="#0af9e5"/><stop offset=".241" stop-color="#0ceffb"/><stop offset=".44" stop-color="#0c99ff"/><stop offset=".52" stop-color="#0c80ff"/><stop offset=".998" stop-color="#0c86ff"/></linearGradient><linearGradient id="c125" x1="0" y1="0" x2="0" y2="1"><stop offset=".002" stop-color="#0cf0fa"/><stop offset=".206" stop-color="#0ceafd"/><stop offset=".515" stop-color="#0c81ff"/><stop offset=".998" stop-color="#0c87ff"/></linearGradient><linearGradient id="c126" x1="0" y1="0" x2="0" y2="1"><stop offset=".002" stop-color="#0ce1ff"/><stop offset=".187" stop-color="#0ce0ff"/><stop offset=".52" stop-color="#0c7cff"/><stop offset=".998" stop-color="#0c83ff"/></linearGradient><linearGradient id="c127" x1="0" y1="0" x2="0" y2="1"><stop offset=".002" stop-color="#0cd1ff"/><stop offset=".182" stop-color="#0cd1ff"/><stop offset=".311" stop-color="#0cb4ff"/><stop offset=".44" stop-color="#0c84ff"/><stop offset=".52" stop-color="#0c75ff"/><stop offset=".998" stop-color="#0c7dff"/></linearGradient><linearGradient id="c128" x1="0" y1="0" x2="0" y2="1"><stop offset=".002" stop-color="#0cc4ff"/><stop offset=".201" stop-color="#0cc0ff"/><stop offset=".321" stop-color="#0ca7ff"/><stop offset=".44" stop-color="#0c77ff"/><stop offset=".525" stop-color="#0c6bff"/><stop offset=".699" stop-color="#0c6aff"/><stop offset=".724" stop-color="#0c76ff"/><stop offset=".998" stop-color="#0c74ff"/></linearGradient><linearGradient id="c129" x1="0" y1="0" x2="0" y2="1"><stop offset=".002" stop-color="#0cc1ff"/><stop offset=".172" stop-color="#0cc1ff"/><stop offset=".261" stop-color="#0cb2ff"/><stop offset=".316" stop-color="#0ca4ff"/><stop offset=".435" stop-color="#0c6eff"/><stop offset=".51" stop-color="#0c63ff"/><stop offset=".699" stop-color="#0c61ff"/><stop offset=".724" stop-color="#0c6fff"/><stop offset=".998" stop-color="#0c6dff"/></linearGradient><linearGradient id="c130" x1="0" y1="0" x2="0" y2="1"><stop offset=".002" stop-color="#0cc7ff"/><stop offset=".206" stop-color="#0cc2ff"/><stop offset=".301" stop-color="#0cabff"/><stop offset=".44" stop-color="#0c66ff"/><stop offset=".495" stop-color="#0c5eff"/><stop offset=".699" stop-color="#0c5bff"/><stop offset=".724" stop-color="#0c6bff"/><stop offset=".998" stop-color="#0c6aff"/></linearGradient><linearGradient id="c131" x1="0" y1="0" x2="0" y2="1"><stop offset=".002" stop-color="#0cc0ff"/><stop offset=".177" stop-color="#0cc0ff"/><stop offset=".271" stop-color="#0caeff"/><stop offset=".425" stop-color="#0c65ff"/><stop offset=".48" stop-color="#0c5aff"/><stop offset=".699" stop-color="#0c57ff"/><stop offset=".729" stop-color="#0c6aff"/><stop offset=".998" stop-color="#0c69ff"/></linearGradient><linearGradient id="c132" x1="0" y1="0" x2="0" y2="1"><stop offset=".002" stop-color="#0ca8ff"/><stop offset=".236" stop-color="#0ca2ff"/><stop offset=".286" stop-color="#0c97ff"/><stop offset=".425" stop-color="#0c5aff"/><stop offset=".455" stop-color="#0c56ff"/><stop offset=".699" stop-color="#0c54ff"/><stop offset=".724" stop-color="#0c67ff"/><stop offset=".998" stop-color="#0c67ff"/></linearGradient><linearGradient id="c133" x1="0" y1="0" x2="0" y2="1"><stop offset=".002" stop-color="#0c9aff"/><stop offset=".236" stop-color="#0c96ff"/><stop offset=".425" stop-color="#0c53ff"/><stop offset=".699" stop-color="#0c52ff"/><stop offset=".724" stop-color="#0c65ff"/><stop offset=".998" stop-color="#0c65ff"/></linearGradient><linearGradient id="c134" x1="0" y1="0" x2="0" y2="1"><stop offset=".002" stop-color="#0c9aff"/><stop offset=".226" stop-color="#0c97ff"/><stop offset=".296" stop-color="#0c82ff"/><stop offset=".366" stop-color="#0c5eff"/><stop offset=".425" stop-color="#0c52ff"/><stop offset=".699" stop-color="#0c51ff"/><stop offset=".724" stop-color="#0c64ff"/><stop offset=".998" stop-color="#0c64ff"/></linearGradient><linearGradient id="c135" x1="0" y1="0" x2="0" y2="1"><stop offset=".002" stop-color="#0c93ff"/><stop offset=".226" stop-color="#0c92ff"/><stop offset=".291" stop-color="#0c7dff"/><stop offset=".356" stop-color="#0c5aff"/><stop offset=".405" stop-color="#0c51ff"/><stop offset=".694" stop-color="#0c50ff"/><stop offset=".729" stop-color="#0c64ff"/><stop offset=".998" stop-color="#0c64ff"/></linearGradient><linearGradient id="c136" x1="0" y1="0" x2="0" y2="1"><stop offset=".002" stop-color="#0c85ff"/><stop offset=".231" stop-color="#0c89ff"/><stop offset=".291" stop-color="#0c75ff"/><stop offset=".351" stop-color="#0c54ff"/><stop offset=".386" stop-color="#0c4eff"/><stop offset=".699" stop-color="#0c51ff"/><stop offset=".724" stop-color="#0c64ff"/><stop offset=".998" stop-color="#0c64ff"/></linearGradient><linearGradient id="c137" x1="0" y1="0" x2="0" y2="1"><stop offset=".002" stop-color="#0c7aff"/><stop offset=".177" stop-color="#0c7bff"/><stop offset=".231" stop-color="#0c8eff"/><stop offset=".296" stop-color="#0c77ff"/><stop offset=".341" stop-color="#0c57ff"/><stop offset=".371" stop-color="#0c4cff"/><stop offset=".699" stop-color="#0c51ff"/><stop offset=".724" stop-color="#0c64ff"/><stop offset=".998" stop-color="#0c64ff"/></linearGradient><linearGradient id="c138" x1="0" y1="0" x2="0" y2="1"><stop offset=".002" stop-color="#0c72ff"/><stop offset=".172" stop-color="#0c73ff"/><stop offset=".236" stop-color="#0c98ff"/><stop offset=".296" stop-color="#0c81ff"/><stop offset=".346" stop-color="#0c57ff"/><stop offset=".376" stop-color="#0c49ff"/><stop offset=".699" stop-color="#0c4fff"/><stop offset=".724" stop-color="#0c62ff"/><stop offset=".998" stop-color="#0c62ff"/></linearGradient><linearGradient id="c139" x1="0" y1="0" x2="0" y2="1"><stop offset=".002" stop-color="#0c6cff"/><stop offset=".172" stop-color="#0c6cff"/><stop offset=".231" stop-color="#0c92ff"/><stop offset=".301" stop-color="#0c77ff"/><stop offset=".371" stop-color="#0c47ff"/><stop offset=".699" stop-color="#0c4dff"/><stop offset=".729" stop-color="#0c61ff"/><stop offset=".998" stop-color="#0c61ff"/></linearGradient><linearGradient id="c140" x1="0" y1="0" x2="0" y2="1"><stop offset=".002" stop-color="#0c68ff"/><stop offset=".177" stop-color="#0c69ff"/><stop offset=".231" stop-color="#0c7cff"/><stop offset=".366" stop-color="#0c48ff"/><stop offset=".699" stop-color="#0c4eff"/><stop offset=".724" stop-color="#0c61ff"/><stop offset=".998" stop-color="#0c61ff"/></linearGradient><linearGradient id="c141" x1="0" y1="0" x2="0" y2="1"><stop offset=".002" stop-color="#0c67ff"/><stop offset=".226" stop-color="#0c6cff"/><stop offset=".301" stop-color="#0c51ff"/><stop offset=".356" stop-color="#0c4aff"/><stop offset=".699" stop-color="#0c50ff"/><stop offset=".729" stop-color="#0c64ff"/><stop offset=".998" stop-color="#0c64ff"/></linearGradient><linearGradient id="c142" x1="0" y1="0" x2="0" y2="1"><stop offset=".002" stop-color="#0c66ff"/><stop offset=".221" stop-color="#0c67ff"/><stop offset=".311" stop-color="#0c4cff"/><stop offset=".699" stop-color="#0c52ff"/><stop offset=".724" stop-color="#0c65ff"/><stop offset=".998" stop-color="#0c65ff"/></linearGradient><linearGradient id="c143" x1="0" y1="0" x2="0" y2="1"><stop offset=".002" stop-color="#0c6aff"/><stop offset=".221" stop-color="#0c68ff"/><stop offset=".286" stop-color="#0c52ff"/><stop offset=".346" stop-color="#0c4eff"/><stop offset=".694" stop-color="#0c52ff"/><stop offset=".724" stop-color="#0c66ff"/><stop offset=".998" stop-color="#0c66ff"/></linearGradient><linearGradient id="c144" x1="0" y1="0" x2="0" y2="1"><stop offset=".002" stop-color="#0c6fff"/><stop offset=".221" stop-color="#0c6cff"/><stop offset=".286" stop-color="#0c56ff"/><stop offset=".361" stop-color="#0c51ff"/><stop offset=".699" stop-color="#0c52ff"/><stop offset=".724" stop-color="#0c65ff"/><stop offset=".913" stop-color="#0c6cff"/><stop offset=".998" stop-color="#0c66ff"/></linearGradient><linearGradient id="c145" x1="0" y1="0" x2="0" y2="1"><stop offset=".002" stop-color="#0c6cff"/><stop offset=".201" stop-color="#0c6aff"/><stop offset=".276" stop-color="#0c57ff"/><stop offset=".371" stop-color="#0c51ff"/><stop offset=".699" stop-color="#0c52ff"/><stop offset=".724" stop-color="#0c65ff"/><stop offset=".918" stop-color="#0c75ff"/><stop offset=".998" stop-color="#0c67ff"/></linearGradient><linearGradient id="c146" x1="0" y1="0" x2="0" y2="1"><stop offset=".002" stop-color="#0c5fff"/><stop offset=".211" stop-color="#0c5dff"/><stop offset=".276" stop-color="#0c50ff"/><stop offset=".386" stop-color="#0c4eff"/><stop offset=".699" stop-color="#0c52ff"/><stop offset=".729" stop-color="#0c66ff"/><stop offset=".913" stop-color="#0c7aff"/><stop offset=".998" stop-color="#0c67ff"/></linearGradient><linearGradient id="c147" x1="0" y1="0" x2="0" y2="1"><stop offset=".002" stop-color="#0c55ff"/><stop offset=".361" stop-color="#0c4bff"/><stop offset=".699" stop-color="#0c52ff"/><stop offset=".729" stop-color="#0c66ff"/><stop offset=".918" stop-color="#0c75ff"/><stop offset=".998" stop-color="#0c67ff"/></linearGradient><linearGradient id="c148" x1="0" y1="0" x2="0" y2="1"><stop offset=".002" stop-color="#0c51ff"/><stop offset=".366" stop-color="#0c4bff"/><stop offset=".694" stop-color="#0c52ff"/><stop offset=".724" stop-color="#0c66ff"/><stop offset=".923" stop-color="#0c6dff"/><stop offset=".998" stop-color="#0c66ff"/></linearGradient><linearGradient id="c149" x1="0" y1="0" x2="0" y2="1"><stop offset=".002" stop-color="#0c4eff"/><stop offset=".361" stop-color="#0c4aff"/><stop offset=".699" stop-color="#0c52ff"/><stop offset=".724" stop-color="#0c65ff"/><stop offset=".998" stop-color="#0c65ff"/></linearGradient><linearGradient id="c150" x1="0" y1="0" x2="0" y2="1"><stop offset=".002" stop-color="#0c4bff"/><stop offset=".699" stop-color="#0c51ff"/><stop offset=".724" stop-color="#0c64ff"/><stop offset=".998" stop-color="#0c64ff"/></linearGradient><linearGradient id="c151" x1="0" y1="0" x2="0" y2="1"><stop offset=".002" stop-color="#0c4aff"/><stop offset=".699" stop-color="#0c51ff"/><stop offset=".724" stop-color="#0c64ff"/><stop offset=".913" stop-color="#0c6bff"/><stop offset=".998" stop-color="#0c65ff"/></linearGradient><linearGradient id="c152" x1="0" y1="0" x2="0" y2="1"><stop offset=".002" stop-color="#0c48ff"/><stop offset=".699" stop-color="#0c50ff"/><stop offset=".729" stop-color="#0c64ff"/><stop offset=".918" stop-color="#0c73ff"/><stop offset=".998" stop-color="#0c65ff"/></linearGradient><linearGradient id="c153" x1="0" y1="0" x2="0" y2="1"><stop offset=".002" stop-color="#0c48ff"/><stop offset=".699" stop-color="#0c50ff"/><stop offset=".729" stop-color="#0c64ff"/><stop offset=".913" stop-color="#0c78ff"/><stop offset=".998" stop-color="#0c65ff"/></linearGradient><linearGradient id="c154" x1="0" y1="0" x2="0" y2="1"><stop offset=".002" stop-color="#0c49ff"/><stop offset=".699" stop-color="#0c51ff"/><stop offset=".729" stop-color="#0c65ff"/><stop offset=".913" stop-color="#0c74ff"/><stop offset=".998" stop-color="#0c66ff"/></linearGradient><linearGradient id="c155" x1="0" y1="0" x2="0" y2="1"><stop offset=".002" stop-color="#0c49ff"/><stop offset=".699" stop-color="#0c51ff"/><stop offset=".724" stop-color="#0c64ff"/><stop offset=".908" stop-color="#0c6bff"/><stop offset=".998" stop-color="#0c65ff"/></linearGradient><linearGradient id="c156" x1="0" y1="0" x2="0" y2="1"><stop offset=".002" stop-color="#0c4aff"/><stop offset=".699" stop-color="#0c50ff"/><stop offset=".719" stop-color="#0c62ff"/><stop offset=".734" stop-color="#0c64ff"/><stop offset=".998" stop-color="#0c64ff"/></linearGradient><linearGradient id="c157" x1="0" y1="0" x2="0" y2="1"><stop offset=".002" stop-color="#0c50ff"/><stop offset=".694" stop-color="#0c50ff"/><stop offset=".729" stop-color="#0c64ff"/><stop offset=".998" stop-color="#0c64ff"/></linearGradient><linearGradient id="c158" x1="0" y1="0" x2="0" y2="1"><stop offset=".002" stop-color="#0c59ff"/><stop offset=".694" stop-color="#0c51ff"/><stop offset=".729" stop-color="#0c65ff"/><stop offset=".998" stop-color="#0c65ff"/></linearGradient><linearGradient id="c159" x1="0" y1="0" x2="0" y2="1"><stop offset=".002" stop-color="#0c59ff"/><stop offset=".699" stop-color="#0c52ff"/><stop offset=".724" stop-color="#0c65ff"/><stop offset=".998" stop-color="#0c65ff"/></linearGradient><linearGradient id="c160" x1="0" y1="0" x2="0" y2="1"><stop offset=".002" stop-color="#0c50ff"/><stop offset=".699" stop-color="#0c51ff"/><stop offset=".724" stop-color="#0c64ff"/><stop offset=".903" stop-color="#0c6bff"/><stop offset=".998" stop-color="#0c65ff"/></linearGradient><linearGradient id="c161" x1="0" y1="0" x2="0" y2="1"><stop offset=".002" stop-color="#0c4aff"/><stop offset=".699" stop-color="#0c50ff"/><stop offset=".729" stop-color="#0c64ff"/><stop offset=".913" stop-color="#0c70ff"/><stop offset=".998" stop-color="#0c64ff"/></linearGradient><linearGradient id="c162" x1="0" y1="0" x2="0" y2="1"><stop offset=".002" stop-color="#0c48ff"/><stop offset=".699" stop-color="#0c50ff"/><stop offset=".724" stop-color="#0c63ff"/><stop offset=".913" stop-color="#0c70ff"/><stop offset=".998" stop-color="#0c64ff"/></linearGradient><linearGradient id="c163" x1="0" y1="0" x2="0" y2="1"><stop offset=".002" stop-color="#0c49ff"/><stop offset=".699" stop-color="#0c51ff"/><stop offset=".729" stop-color="#0c65ff"/><stop offset=".913" stop-color="#0c6cff"/><stop offset=".998" stop-color="#0c65ff"/></linearGradient><linearGradient id="c164" x1="0" y1="0" x2="0" y2="1"><stop offset=".002" stop-color="#0c4cff"/><stop offset=".699" stop-color="#0c54ff"/><stop offset=".724" stop-color="#0c67ff"/><stop offset=".998" stop-color="#0c67ff"/></linearGradient><linearGradient id="c165" x1="0" y1="0" x2="0" y2="1"><stop offset=".002" stop-color="#0c4aff"/><stop offset=".699" stop-color="#0c52ff"/><stop offset=".724" stop-color="#0c65ff"/><stop offset=".998" stop-color="#0c65ff"/></linearGradient><linearGradient id="c166" x1="0" y1="0" x2="0" y2="1"><stop offset=".002" stop-color="#0c48ff"/><stop offset=".699" stop-color="#0c50ff"/><stop offset=".724" stop-color="#0c63ff"/><stop offset=".998" stop-color="#0c63ff"/></linearGradient><linearGradient id="c167" x1="0" y1="0" x2="0" y2="1"><stop offset=".002" stop-color="#0c49ff"/><stop offset=".699" stop-color="#0c51ff"/><stop offset=".724" stop-color="#0c64ff"/><stop offset=".998" stop-color="#0c64ff"/></linearGradient><linearGradient id="c168" x1="0" y1="0" x2="0" y2="1"><stop offset=".002" stop-color="#0c49ff"/><stop offset=".699" stop-color="#0c51ff"/><stop offset=".724" stop-color="#0c64ff"/><stop offset=".998" stop-color="#0c64ff"/></linearGradient><linearGradient id="c169" x1="0" y1="0" x2="0" y2="1"><stop offset=".002" stop-color="#0c49ff"/><stop offset=".694" stop-color="#0c51ff"/><stop offset=".724" stop-color="#0c65ff"/><stop offset=".913" stop-color="#0c70ff"/><stop offset=".998" stop-color="#0c66ff"/></linearGradient><linearGradient id="c170" x1="0" y1="0" x2="0" y2="1"><stop offset=".002" stop-color="#0c4aff"/><stop offset=".699" stop-color="#0c52ff"/><stop offset=".719" stop-color="#0c64ff"/><stop offset=".918" stop-color="#0c7fff"/><stop offset=".998" stop-color="#0c67ff"/></linearGradient><linearGradient id="c171" x1="0" y1="0" x2="0" y2="1"><stop offset=".002" stop-color="#0c48ff"/><stop offset=".694" stop-color="#0c50ff"/><stop offset=".724" stop-color="#0c64ff"/><stop offset=".918" stop-color="#0c86ff"/><stop offset=".998" stop-color="#0c67ff"/></linearGradient><linearGradient id="c172" x1="0" y1="0" x2="0" y2="1"><stop offset=".002" stop-color="#0c47ff"/><stop offset=".694" stop-color="#0c4fff"/><stop offset=".724" stop-color="#0c63ff"/><stop offset=".918" stop-color="#0c7dff"/><stop offset=".998" stop-color="#0c65ff"/></linearGradient><linearGradient id="c173" x1="0" y1="0" x2="0" y2="1"><stop offset=".002" stop-color="#0c47ff"/><stop offset=".699" stop-color="#0c4fff"/><stop offset=".729" stop-color="#0c63ff"/><stop offset=".918" stop-color="#0c6eff"/><stop offset=".998" stop-color="#0c64ff"/></linearGradient><linearGradient id="c174" x1="0" y1="0" x2="0" y2="1"><stop offset=".002" stop-color="#0c47ff"/><stop offset=".699" stop-color="#0c4fff"/><stop offset=".724" stop-color="#0c62ff"/><stop offset=".998" stop-color="#0c62ff"/></linearGradient><linearGradient id="c175" x1="0" y1="0" x2="0" y2="1"><stop offset=".002" stop-color="#0c47ff"/><stop offset=".699" stop-color="#0c4dff"/><stop offset=".724" stop-color="#0c60ff"/><stop offset=".998" stop-color="#0c60ff"/></linearGradient><linearGradient id="c176" x1="0" y1="0" x2="0" y2="1"><stop offset=".002" stop-color="#0c4cff"/><stop offset=".699" stop-color="#0c4eff"/><stop offset=".724" stop-color="#0c61ff"/><stop offset=".998" stop-color="#0c61ff"/></linearGradient><linearGradient id="c177" x1="0" y1="0" x2="0" y2="1"><stop offset=".002" stop-color="#0c55ff"/><stop offset=".694" stop-color="#0c50ff"/><stop offset=".724" stop-color="#0c64ff"/><stop offset=".998" stop-color="#0c64ff"/></linearGradient><linearGradient id="c178" x1="0" y1="0" x2="0" y2="1"><stop offset=".002" stop-color="#0c58ff"/><stop offset=".699" stop-color="#0c53ff"/><stop offset=".724" stop-color="#0c66ff"/><stop offset=".998" stop-color="#0c66ff"/></linearGradient><linearGradient id="c179" x1="0" y1="0" x2="0" y2="1"><stop offset=".002" stop-color="#0c52ff"/><stop offset=".699" stop-color="#0c55ff"/><stop offset=".724" stop-color="#0c68ff"/><stop offset=".998" stop-color="#0c68ff"/></linearGradient><linearGradient id="c180" x1="0" y1="0" x2="0" y2="1"><stop offset=".002" stop-color="#0c4eff"/><stop offset=".699" stop-color="#0c55ff"/><stop offset=".724" stop-color="#0c68ff"/><stop offset=".998" stop-color="#0c68ff"/></linearGradient><linearGradient id="c181" x1="0" y1="0" x2="0" y2="1"><stop offset=".002" stop-color="#0c4bff"/><stop offset=".699" stop-color="#0c53ff"/><stop offset=".724" stop-color="#0c66ff"/><stop offset=".998" stop-color="#0c66ff"/></linearGradient><linearGradient id="c182" x1="0" y1="0" x2="0" y2="1"><stop offset=".002" stop-color="#0c49ff"/><stop offset=".699" stop-color="#0c51ff"/><stop offset=".724" stop-color="#0c64ff"/><stop offset=".998" stop-color="#0c64ff"/></linearGradient><linearGradient id="c183" x1="0" y1="0" x2="0" y2="1"><stop offset=".002" stop-color="#0c46ff"/><stop offset=".689" stop-color="#0c4eff"/><stop offset=".704" stop-color="#0c50ff"/><stop offset=".724" stop-color="#0c62ff"/><stop offset=".998" stop-color="#0c62ff"/></linearGradient><linearGradient id="c184" x1="0" y1="0" x2="0" y2="1"><stop offset=".002" stop-color="#0c45ff"/><stop offset=".699" stop-color="#0c4dff"/><stop offset=".724" stop-color="#0c60ff"/><stop offset=".998" stop-color="#0c60ff"/></linearGradient><linearGradient id="c185" x1="0" y1="0" x2="0" y2="1"><stop offset=".002" stop-color="#0c45ff"/><stop offset=".699" stop-color="#0c4dff"/><stop offset=".724" stop-color="#0c60ff"/><stop offset=".998" stop-color="#0c60ff"/></linearGradient><linearGradient id="c186" x1="0" y1="0" x2="0" y2="1"><stop offset=".002" stop-color="#0c47ff"/><stop offset=".699" stop-color="#0c4fff"/><stop offset=".724" stop-color="#0c62ff"/><stop offset=".998" stop-color="#0c62ff"/></linearGradient><linearGradient id="c187" x1="0" y1="0" x2="0" y2="1"><stop offset=".002" stop-color="#0c49ff"/><stop offset=".699" stop-color="#0c51ff"/><stop offset=".724" stop-color="#0c64ff"/><stop offset=".998" stop-color="#0c64ff"/></linearGradient><linearGradient id="c188" x1="0" y1="0" x2="0" y2="1"><stop offset=".002" stop-color="#0c4bff"/><stop offset=".694" stop-color="#0c51ff"/><stop offset=".724" stop-color="#0c65ff"/><stop offset=".998" stop-color="#0c65ff"/></linearGradient><linearGradient id="c189" x1="0" y1="0" x2="0" y2="1"><stop offset=".002" stop-color="#0c4eff"/><stop offset=".699" stop-color="#0c50ff"/><stop offset=".724" stop-color="#0c63ff"/><stop offset=".998" stop-color="#0c63ff"/></linearGradient><linearGradient id="c190" x1="0" y1="0" x2="0" y2="1"><stop offset=".002" stop-color="#0c53ff"/><stop offset=".699" stop-color="#0c4eff"/><stop offset=".729" stop-color="#0c62ff"/><stop offset=".998" stop-color="#0c62ff"/></linearGradient><linearGradient id="c191" x1="0" y1="0" x2="0" y2="1"><stop offset=".002" stop-color="#0c53ff"/><stop offset=".699" stop-color="#0c4eff"/><stop offset=".724" stop-color="#0c61ff"/><stop offset=".998" stop-color="#0c61ff"/></linearGradient><linearGradient id="c192" x1="0" y1="0" x2="0" y2="1"><stop offset=".002" stop-color="#0c4eff"/><stop offset=".699" stop-color="#0c50ff"/><stop offset=".724" stop-color="#0c63ff"/><stop offset=".998" stop-color="#0c63ff"/></linearGradient><linearGradient id="c193" x1="0" y1="0" x2="0" y2="1"><stop offset=".002" stop-color="#0c4bff"/><stop offset=".699" stop-color="#0c51ff"/><stop offset=".719" stop-color="#0c63ff"/><stop offset=".734" stop-color="#0c65ff"/><stop offset=".998" stop-color="#0c65ff"/></linearGradient><linearGradient id="c194" x1="0" y1="0" x2="0" y2="1"><stop offset=".002" stop-color="#0c4aff"/><stop offset=".694" stop-color="#0c51ff"/><stop offset=".724" stop-color="#0c65ff"/><stop offset=".998" stop-color="#0c65ff"/></linearGradient><linearGradient id="c195" x1="0" y1="0" x2="0" y2="1"><stop offset=".002" stop-color="#0c4aff"/><stop offset=".699" stop-color="#0c52ff"/><stop offset=".724" stop-color="#0c65ff"/><stop offset=".998" stop-color="#0c65ff"/></linearGradient><linearGradient id="c196" x1="0" y1="0" x2="0" y2="1"><stop offset=".002" stop-color="#0c4cff"/><stop offset=".694" stop-color="#0c54ff"/><stop offset=".729" stop-color="#0c68ff"/><stop offset=".998" stop-color="#0c68ff"/></linearGradient><linearGradient id="c197" x1="0" y1="0" x2="0" y2="1"><stop offset=".002" stop-color="#0c4cff"/><stop offset=".699" stop-color="#0c54ff"/><stop offset=".724" stop-color="#0c67ff"/><stop offset=".998" stop-color="#0c67ff"/></linearGradient><linearGradient id="c198" x1="0" y1="0" x2="0" y2="1"><stop offset=".002" stop-color="#0c4aff"/><stop offset=".699" stop-color="#0c52ff"/><stop offset=".724" stop-color="#0c65ff"/><stop offset=".998" stop-color="#0c65ff"/></linearGradient><linearGradient id="c199" x1="0" y1="0" x2="0" y2="1"><stop offset=".002" stop-color="#0c48ff"/><stop offset=".699" stop-color="#0c50ff"/><stop offset=".724" stop-color="#0c63ff"/><stop offset=".998" stop-color="#0c63ff"/></linearGradient><linearGradient id="c200" x1="0" y1="0" x2="0" y2="1"><stop offset=".002" stop-color="#0c48ff"/><stop offset=".699" stop-color="#0c50ff"/><stop offset=".724" stop-color="#0c63ff"/><stop offset=".998" stop-color="#0c63ff"/></linearGradient><linearGradient id="c201" x1="0" y1="0" x2="0" y2="1"><stop offset=".002" stop-color="#0c49ff"/><stop offset=".699" stop-color="#0c51ff"/><stop offset=".724" stop-color="#0c64ff"/><stop offset=".998" stop-color="#0c64ff"/></linearGradient><filter id="nz" x="0" y="0" width="1" height="1" color-interpolation-filters="sRGB"><feTurbulence type="fractalNoise" baseFrequency="0.8 0.1" numOctaves="2" seed="11"/><feColorMatrix type="matrix" values="0 0 0 0 0.05  0 0 0 0 0.75  0 0 0 0 1  3.2 0 0 0 -1.5"/></filter><filter id="nd" x="0" y="0" width="1" height="1" color-interpolation-filters="sRGB"><feTurbulence type="fractalNoise" baseFrequency="0.85 0.09" numOctaves="2" seed="29"/><feColorMatrix type="matrix" values="0 0 0 0 0  0 0 0 0 0.1  0 0 0 0 0.95  0 3.2 0 0 -1.5"/></filter></defs>
<g shape-rendering="crispEdges"><rect x="84" y="4" width="1.05" height="201" fill="url(#c0)"/><rect x="85" y="4" width="1.05" height="201" fill="url(#c1)"/><rect x="86" y="4" width="1.05" height="201" fill="url(#c2)"/><rect x="87" y="4" width="1.05" height="201" fill="url(#c3)"/><rect x="88" y="4" width="1.05" height="201" fill="url(#c4)"/><rect x="89" y="4" width="1.05" height="201" fill="url(#c5)"/><rect x="90" y="4" width="1.05" height="201" fill="url(#c6)"/><rect x="91" y="4" width="1.05" height="201" fill="url(#c7)"/><rect x="92" y="4" width="1.05" height="201" fill="url(#c8)"/><rect x="93" y="4" width="1.05" height="201" fill="url(#c9)"/><rect x="94" y="4" width="1.05" height="201" fill="url(#c10)"/><rect x="95" y="4" width="1.05" height="201" fill="url(#c11)"/><rect x="96" y="4" width="1.05" height="201" fill="url(#c12)"/><rect x="97" y="4" width="1.05" height="201" fill="url(#c13)"/><rect x="98" y="4" width="1.05" height="201" fill="url(#c14)"/><rect x="99" y="4" width="1.05" height="201" fill="url(#c15)"/><rect x="100" y="4" width="1.05" height="201" fill="url(#c16)"/><rect x="101" y="4" width="1.05" height="201" fill="url(#c17)"/><rect x="102" y="4" width="1.05" height="201" fill="url(#c18)"/><rect x="103" y="4" width="1.05" height="201" fill="url(#c19)"/><rect x="104" y="4" width="1.05" height="201" fill="url(#c20)"/><rect x="105" y="4" width="1.05" height="201" fill="url(#c21)"/><rect x="106" y="4" width="1.05" height="201" fill="url(#c22)"/><rect x="107" y="4" width="1.05" height="201" fill="url(#c23)"/><rect x="108" y="4" width="1.05" height="201" fill="url(#c24)"/><rect x="109" y="4" width="1.05" height="201" fill="url(#c25)"/><rect x="110" y="4" width="1.05" height="201" fill="url(#c26)"/><rect x="111" y="4" width="1.05" height="201" fill="url(#c27)"/><rect x="112" y="4" width="1.05" height="201" fill="url(#c28)"/><rect x="113" y="4" width="1.05" height="201" fill="url(#c29)"/><rect x="114" y="4" width="1.05" height="201" fill="url(#c30)"/><rect x="115" y="4" width="1.05" height="201" fill="url(#c31)"/><rect x="116" y="4" width="1.05" height="201" fill="url(#c32)"/><rect x="117" y="4" width="1.05" height="201" fill="url(#c33)"/><rect x="118" y="4" width="1.05" height="201" fill="url(#c34)"/><rect x="119" y="4" width="1.05" height="201" fill="url(#c35)"/><rect x="120" y="4" width="1.05" height="201" fill="url(#c36)"/><rect x="121" y="4" width="1.05" height="201" fill="url(#c37)"/><rect x="122" y="4" width="1.05" height="201" fill="url(#c38)"/><rect x="123" y="4" width="1.05" height="201" fill="url(#c39)"/><rect x="124" y="4" width="1.05" height="201" fill="url(#c40)"/><rect x="125" y="4" width="1.05" height="201" fill="url(#c41)"/><rect x="126" y="4" width="1.05" height="201" fill="url(#c42)"/><rect x="127" y="4" width="1.05" height="201" fill="url(#c43)"/><rect x="128" y="4" width="1.05" height="201" fill="url(#c44)"/><rect x="129" y="4" width="1.05" height="201" fill="url(#c45)"/><rect x="130" y="4" width="1.05" height="201" fill="url(#c46)"/><rect x="131" y="4" width="1.05" height="201" fill="url(#c47)"/><rect x="132" y="4" width="1.05" height="201" fill="url(#c48)"/><rect x="133" y="4" width="1.05" height="201" fill="url(#c49)"/><rect x="134" y="4" width="1.05" height="201" fill="url(#c50)"/><rect x="135" y="4" width="1.05" height="201" fill="url(#c51)"/><rect x="136" y="4" width="1.05" height="201" fill="url(#c52)"/><rect x="137" y="4" width="1.05" height="201" fill="url(#c53)"/><rect x="138" y="4" width="1.05" height="201" fill="url(#c54)"/><rect x="139" y="4" width="1.05" height="201" fill="url(#c55)"/><rect x="140" y="4" width="1.05" height="201" fill="url(#c56)"/><rect x="141" y="4" width="1.05" height="201" fill="url(#c57)"/><rect x="142" y="4" width="1.05" height="201" fill="url(#c58)"/><rect x="143" y="4" width="1.05" height="201" fill="url(#c59)"/><rect x="144" y="4" width="1.05" height="201" fill="url(#c60)"/><rect x="145" y="4" width="1.05" height="201" fill="url(#c61)"/><rect x="146" y="4" width="1.05" height="201" fill="url(#c62)"/><rect x="147" y="4" width="1.05" height="201" fill="url(#c63)"/><rect x="148" y="4" width="1.05" height="201" fill="url(#c64)"/><rect x="149" y="4" width="1.05" height="201" fill="url(#c65)"/><rect x="150" y="4" width="1.05" height="201" fill="url(#c66)"/><rect x="151" y="4" width="1.05" height="201" fill="url(#c67)"/><rect x="152" y="4" width="1.05" height="201" fill="url(#c68)"/><rect x="153" y="4" width="1.05" height="201" fill="url(#c69)"/><rect x="154" y="4" width="1.05" height="201" fill="url(#c70)"/><rect x="155" y="4" width="1.05" height="201" fill="url(#c71)"/><rect x="156" y="4" width="1.05" height="201" fill="url(#c72)"/><rect x="157" y="4" width="1.05" height="201" fill="url(#c73)"/><rect x="158" y="4" width="1.05" height="201" fill="url(#c74)"/><rect x="159" y="4" width="1.05" height="201" fill="url(#c75)"/><rect x="160" y="4" width="1.05" height="201" fill="url(#c76)"/><rect x="161" y="4" width="1.05" height="201" fill="url(#c77)"/><rect x="162" y="4" width="1.05" height="201" fill="url(#c78)"/><rect x="163" y="4" width="1.05" height="201" fill="url(#c79)"/><rect x="164" y="4" width="1.05" height="201" fill="url(#c80)"/><rect x="165" y="4" width="1.05" height="201" fill="url(#c81)"/><rect x="166" y="4" width="1.05" height="201" fill="url(#c82)"/><rect x="167" y="4" width="1.05" height="201" fill="url(#c83)"/><rect x="168" y="4" width="1.05" height="201" fill="url(#c84)"/><rect x="169" y="4" width="1.05" height="201" fill="url(#c85)"/><rect x="170" y="4" width="1.05" height="201" fill="url(#c86)"/><rect x="171" y="4" width="1.05" height="201" fill="url(#c87)"/><rect x="172" y="4" width="1.05" height="201" fill="url(#c88)"/><rect x="173" y="4" width="1.05" height="201" fill="url(#c89)"/><rect x="174" y="4" width="1.05" height="201" fill="url(#c90)"/><rect x="175" y="4" width="1.05" height="201" fill="url(#c91)"/><rect x="176" y="4" width="1.05" height="201" fill="url(#c92)"/><rect x="177" y="4" width="1.05" height="201" fill="url(#c93)"/><rect x="178" y="4" width="1.05" height="201" fill="url(#c94)"/><rect x="179" y="4" width="1.05" height="201" fill="url(#c95)"/><rect x="180" y="4" width="1.05" height="201" fill="url(#c96)"/><rect x="181" y="4" width="1.05" height="201" fill="url(#c97)"/><rect x="182" y="4" width="1.05" height="201" fill="url(#c98)"/><rect x="183" y="4" width="1.05" height="201" fill="url(#c99)"/><rect x="184" y="4" width="1.05" height="201" fill="url(#c100)"/><rect x="185" y="4" width="1.05" height="201" fill="url(#c101)"/><rect x="186" y="4" width="1.05" height="201" fill="url(#c102)"/><rect x="187" y="4" width="1.05" height="201" fill="url(#c103)"/><rect x="188" y="4" width="1.05" height="201" fill="url(#c104)"/><rect x="189" y="4" width="1.05" height="201" fill="url(#c105)"/><rect x="190" y="4" width="1.05" height="201" fill="url(#c106)"/><rect x="191" y="4" width="1.05" height="201" fill="url(#c107)"/><rect x="192" y="4" width="1.05" height="201" fill="url(#c108)"/><rect x="193" y="4" width="1.05" height="201" fill="url(#c109)"/><rect x="194" y="4" width="1.05" height="201" fill="url(#c110)"/><rect x="195" y="4" width="1.05" height="201" fill="url(#c111)"/><rect x="196" y="4" width="1.05" height="201" fill="url(#c112)"/><rect x="197" y="4" width="1.05" height="201" fill="url(#c113)"/><rect x="198" y="4" width="1.05" height="201" fill="url(#c114)"/><rect x="199" y="4" width="1.05" height="201" fill="url(#c115)"/><rect x="200" y="4" width="1.05" height="201" fill="url(#c116)"/><rect x="201" y="4" width="1.05" height="201" fill="url(#c117)"/><rect x="202" y="4" width="1.05" height="201" fill="url(#c118)"/><rect x="203" y="4" width="1.05" height="201" fill="url(#c119)"/><rect x="204" y="4" width="1.05" height="201" fill="url(#c120)"/><rect x="205" y="4" width="1.05" height="201" fill="url(#c121)"/><rect x="206" y="4" width="1.05" height="201" fill="url(#c122)"/><rect x="207" y="4" width="1.05" height="201" fill="url(#c123)"/><rect x="208" y="4" width="1.05" height="201" fill="url(#c124)"/><rect x="209" y="4" width="1.05" height="201" fill="url(#c125)"/><rect x="210" y="4" width="1.05" height="201" fill="url(#c126)"/><rect x="211" y="4" width="1.05" height="201" fill="url(#c127)"/><rect x="212" y="4" width="1.05" height="201" fill="url(#c128)"/><rect x="213" y="4" width="1.05" height="201" fill="url(#c129)"/><rect x="214" y="4" width="1.05" height="201" fill="url(#c130)"/><rect x="215" y="4" width="1.05" height="201" fill="url(#c131)"/><rect x="216" y="4" width="1.05" height="201" fill="url(#c132)"/><rect x="217" y="4" width="1.05" height="201" fill="url(#c133)"/><rect x="218" y="4" width="1.05" height="201" fill="url(#c134)"/><rect x="219" y="4" width="1.05" height="201" fill="url(#c135)"/><rect x="220" y="4" width="1.05" height="201" fill="url(#c136)"/><rect x="221" y="4" width="1.05" height="201" fill="url(#c137)"/><rect x="222" y="4" width="1.05" height="201" fill="url(#c138)"/><rect x="223" y="4" width="1.05" height="201" fill="url(#c139)"/><rect x="224" y="4" width="1.05" height="201" fill="url(#c140)"/><rect x="225" y="4" width="1.05" height="201" fill="url(#c141)"/><rect x="226" y="4" width="1.05" height="201" fill="url(#c142)"/><rect x="227" y="4" width="1.05" height="201" fill="url(#c143)"/><rect x="228" y="4" width="1.05" height="201" fill="url(#c144)"/><rect x="229" y="4" width="1.05" height="201" fill="url(#c145)"/><rect x="230" y="4" width="1.05" height="201" fill="url(#c146)"/><rect x="231" y="4" width="1.05" height="201" fill="url(#c147)"/><rect x="232" y="4" width="1.05" height="201" fill="url(#c148)"/><rect x="233" y="4" width="1.05" height="201" fill="url(#c149)"/><rect x="234" y="4" width="1.05" height="201" fill="url(#c150)"/><rect x="235" y="4" width="1.05" height="201" fill="url(#c151)"/><rect x="236" y="4" width="1.05" height="201" fill="url(#c152)"/><rect x="237" y="4" width="1.05" height="201" fill="url(#c153)"/><rect x="238" y="4" width="1.05" height="201" fill="url(#c154)"/><rect x="239" y="4" width="1.05" height="201" fill="url(#c155)"/><rect x="240" y="4" width="1.05" height="201" fill="url(#c156)"/><rect x="241" y="4" width="1.05" height="201" fill="url(#c157)"/><rect x="242" y="4" width="1.05" height="201" fill="url(#c158)"/><rect x="243" y="4" width="1.05" height="201" fill="url(#c159)"/><rect x="244" y="4" width="1.05" height="201" fill="url(#c160)"/><rect x="245" y="4" width="1.05" height="201" fill="url(#c161)"/><rect x="246" y="4" width="1.05" height="201" fill="url(#c162)"/><rect x="247" y="4" width="1.05" height="201" fill="url(#c163)"/><rect x="248" y="4" width="1.05" height="201" fill="url(#c164)"/><rect x="249" y="4" width="1.05" height="201" fill="url(#c165)"/><rect x="250" y="4" width="1.05" height="201" fill="url(#c166)"/><rect x="251" y="4" width="1.05" height="201" fill="url(#c167)"/><rect x="252" y="4" width="1.05" height="201" fill="url(#c168)"/><rect x="253" y="4" width="1.05" height="201" fill="url(#c169)"/><rect x="254" y="4" width="1.05" height="201" fill="url(#c170)"/><rect x="255" y="4" width="1.05" height="201" fill="url(#c171)"/><rect x="256" y="4" width="1.05" height="201" fill="url(#c172)"/><rect x="257" y="4" width="1.05" height="201" fill="url(#c173)"/><rect x="258" y="4" width="1.05" height="201" fill="url(#c174)"/><rect x="259" y="4" width="1.05" height="201" fill="url(#c175)"/><rect x="260" y="4" width="1.05" height="201" fill="url(#c176)"/><rect x="261" y="4" width="1.05" height="201" fill="url(#c177)"/><rect x="262" y="4" width="1.05" height="201" fill="url(#c178)"/><rect x="263" y="4" width="1.05" height="201" fill="url(#c179)"/><rect x="264" y="4" width="1.05" height="201" fill="url(#c180)"/><rect x="265" y="4" width="1.05" height="201" fill="url(#c181)"/><rect x="266" y="4" width="1.05" height="201" fill="url(#c182)"/><rect x="267" y="4" width="1.05" height="201" fill="url(#c183)"/><rect x="268" y="4" width="1.05" height="201" fill="url(#c184)"/><rect x="269" y="4" width="1.05" height="201" fill="url(#c185)"/><rect x="270" y="4" width="1.05" height="201" fill="url(#c186)"/><rect x="271" y="4" width="1.05" height="201" fill="url(#c187)"/><rect x="272" y="4" width="1.05" height="201" fill="url(#c188)"/><rect x="273" y="4" width="1.05" height="201" fill="url(#c189)"/><rect x="274" y="4" width="1.05" height="201" fill="url(#c190)"/><rect x="275" y="4" width="1.05" height="201" fill="url(#c191)"/><rect x="276" y="4" width="1.05" height="201" fill="url(#c192)"/><rect x="277" y="4" width="1.05" height="201" fill="url(#c193)"/><rect x="278" y="4" width="1.05" height="201" fill="url(#c194)"/><rect x="279" y="4" width="1.05" height="201" fill="url(#c195)"/><rect x="280" y="4" width="1.05" height="201" fill="url(#c196)"/><rect x="281" y="4" width="1.05" height="201" fill="url(#c197)"/><rect x="282" y="4" width="1.05" height="201" fill="url(#c198)"/><rect x="283" y="4" width="1.05" height="201" fill="url(#c199)"/><rect x="284" y="4" width="1.05" height="201" fill="url(#c200)"/><rect x="285" y="4" width="1.05" height="201" fill="url(#c201)"/></g><rect x="84" y="4" width="202" height="201" filter="url(#nz)" opacity="0.11"/><rect x="84" y="4" width="202" height="201" filter="url(#nd)" opacity="0.11"/>
<g><rect x="0.5" y="16.10" width="16.6" height="8.21" fill="#000"/><rect x="0.5" y="24.01" width="16.6" height="8.21" fill="#00f"/><rect x="0.5" y="31.92" width="16.6" height="8.21" fill="#002dff"/><rect x="0.5" y="39.84" width="16.6" height="8.21" fill="#05f"/><rect x="0.5" y="47.75" width="16.6" height="8.21" fill="#007dff"/><rect x="0.5" y="55.66" width="16.6" height="8.21" fill="#00a5ff"/><rect x="0.5" y="63.57" width="16.6" height="8.21" fill="#00cdff"/><rect x="0.5" y="71.48" width="16.6" height="8.21" fill="#00f0ff"/><rect x="0.5" y="79.40" width="16.6" height="8.21" fill="#00ffe1"/><rect x="0.5" y="87.31" width="16.6" height="8.21" fill="#00ffaf"/><rect x="0.5" y="95.22" width="16.6" height="8.21" fill="#00ff7d"/><rect x="0.5" y="103.13" width="16.6" height="8.21" fill="#00ff4b"/><rect x="0.5" y="111.04" width="16.6" height="8.21" fill="#00f523"/><rect x="0.5" y="118.96" width="16.6" height="8.21" fill="#28eb19"/><rect x="0.5" y="126.87" width="16.6" height="8.21" fill="#55ee19"/><rect x="0.5" y="134.78" width="16.6" height="8.21" fill="#82f214"/><rect x="0.5" y="142.69" width="16.6" height="8.21" fill="#aff60f"/><rect x="0.5" y="150.60" width="16.6" height="8.21" fill="#d7fa0a"/><rect x="0.5" y="158.52" width="16.6" height="8.21" fill="#fafa00"/><rect x="0.5" y="166.43" width="16.6" height="8.21" fill="#ffd200"/><rect x="0.5" y="174.34" width="16.6" height="8.21" fill="#fa0"/><rect x="0.5" y="182.25" width="16.6" height="8.21" fill="#ff8200"/><rect x="0.5" y="190.16" width="16.6" height="8.21" fill="#ff5a00"/><rect x="0.5" y="198.08" width="16.6" height="8.21" fill="#ff3200"/><rect x="0.5" y="205.99" width="16.6" height="8.21" fill="#ff0a00"/></g>
<g font-size="6.1" fill="#222"><text x="20.3" y="26.31">25.00</text><text x="20.3" y="34.22">30.00</text><text x="20.3" y="42.14">35.00</text><text x="20.3" y="50.05">40.00</text><text x="20.3" y="57.96">45.00</text><text x="20.3" y="65.87">50.00</text><text x="20.3" y="73.78">55.00</text><text x="20.3" y="81.70">60.00</text><text x="20.3" y="89.61">65.00</text><text x="20.3" y="97.52">70.00</text><text x="20.3" y="105.43">75.00</text><text x="20.3" y="113.34">80.00</text><text x="20.3" y="121.26">85.00</text><text x="20.3" y="129.17">90.00</text><text x="20.3" y="137.08">95.00</text><text x="20.3" y="144.99">100.0</text><text x="20.3" y="152.90">105.0</text><text x="20.3" y="160.82">110.0</text><text x="20.3" y="168.73">115.0</text><text x="20.3" y="176.64">120.0</text><text x="20.3" y="184.55">125.0</text><text x="20.3" y="192.46">130.0</text><text x="20.3" y="200.38">135.0</text><text x="20.3" y="208.29">140.0</text><text x="20.3" y="216.20">145.0</text></g>
<rect x="84.4" y="4.5" width="201.6" height="199.9" fill="none" stroke="#0028b8" stroke-width="1"/>
<path d="M88.46 204.40v-1.6M88.46 4.50v1.6M92.17 204.40v-1.6M92.17 4.50v1.6M95.88 204.40v-1.6M95.88 4.50v1.6M99.58 204.40v-1.6M99.58 4.50v1.6M103.29 204.40v-1.6M103.29 4.50v1.6M107.00 204.40v-2.8M107.00 4.50v2.8M110.71 204.40v-1.6M110.71 4.50v1.6M114.42 204.40v-1.6M114.42 4.50v1.6M118.12 204.40v-1.6M118.12 4.50v1.6M121.83 204.40v-1.6M121.83 4.50v1.6M125.54 204.40v-1.6M125.54 4.50v1.6M129.25 204.40v-1.6M129.25 4.50v1.6M132.95 204.40v-1.6M132.95 4.50v1.6M136.66 204.40v-2.8M136.66 4.50v2.8M140.37 204.40v-1.6M140.37 4.50v1.6M144.07 204.40v-1.6M144.07 4.50v1.6M147.78 204.40v-1.6M147.78 4.50v1.6M151.49 204.40v-1.6M151.49 4.50v1.6M155.20 204.40v-1.6M155.20 4.50v1.6M158.91 204.40v-1.6M158.91 4.50v1.6M162.61 204.40v-1.6M162.61 4.50v1.6M166.32 204.40v-2.8M166.32 4.50v2.8M170.03 204.40v-1.6M170.03 4.50v1.6M173.74 204.40v-1.6M173.74 4.50v1.6M177.44 204.40v-1.6M177.44 4.50v1.6M181.15 204.40v-1.6M181.15 4.50v1.6M184.86 204.40v-1.6M184.86 4.50v1.6M188.56 204.40v-1.6M188.56 4.50v1.6M192.27 204.40v-1.6M192.27 4.50v1.6M195.98 204.40v-2.8M195.98 4.50v2.8M199.69 204.40v-1.6M199.69 4.50v1.6M203.39 204.40v-1.6M203.39 4.50v1.6M207.10 204.40v-1.6M207.10 4.50v1.6M210.81 204.40v-1.6M210.81 4.50v1.6M214.52 204.40v-1.6M214.52 4.50v1.6M218.22 204.40v-1.6M218.22 4.50v1.6M221.93 204.40v-1.6M221.93 4.50v1.6M225.64 204.40v-2.8M225.64 4.50v2.8M229.35 204.40v-1.6M229.35 4.50v1.6M233.06 204.40v-1.6M233.06 4.50v1.6M236.76 204.40v-1.6M236.76 4.50v1.6M240.47 204.40v-1.6M240.47 4.50v1.6M244.18 204.40v-1.6M244.18 4.50v1.6M247.88 204.40v-1.6M247.88 4.50v1.6M251.59 204.40v-1.6M251.59 4.50v1.6M255.30 204.40v-2.8M255.30 4.50v2.8M259.01 204.40v-1.6M259.01 4.50v1.6M262.72 204.40v-1.6M262.72 4.50v1.6M266.42 204.40v-1.6M266.42 4.50v1.6M270.13 204.40v-1.6M270.13 4.50v1.6M273.84 204.40v-1.6M273.84 4.50v1.6M277.54 204.40v-1.6M277.54 4.50v1.6M281.25 204.40v-1.6M281.25 4.50v1.6M284.96 204.40v-2.8M284.96 4.50v2.8M84.40 201.08h1.6M84.40 197.86h1.6M84.40 194.64h1.6M84.40 191.42h1.6M84.40 188.20h1.6M84.40 184.98h1.6M84.40 181.76h1.6M84.40 178.54h2.8M84.40 175.32h1.6M84.40 172.10h1.6M84.40 168.88h1.6M84.40 165.66h1.6M84.40 162.44h1.6M84.40 159.22h1.6M84.40 156.00h1.6M84.40 152.78h2.8M84.40 149.56h1.6M84.40 146.34h1.6M84.40 143.12h1.6M84.40 139.90h1.6M84.40 136.68h1.6M84.40 133.46h1.6M84.40 130.24h1.6M84.40 127.02h2.8M84.40 123.80h1.6M84.40 120.58h1.6M84.40 117.36h1.6M84.40 114.14h1.6M84.40 110.92h1.6M84.40 107.70h1.6M84.40 104.48h1.6M84.40 101.26h2.8M84.40 98.04h1.6M84.40 94.82h1.6M84.40 91.60h1.6M84.40 88.38h1.6M84.40 85.16h1.6M84.40 81.94h1.6M84.40 78.72h1.6M84.40 75.50h2.8M84.40 72.28h1.6M84.40 69.06h1.6M84.40 65.84h1.6M84.40 62.62h1.6M84.40 59.40h1.6M84.40 56.18h1.6M84.40 52.96h1.6M84.40 49.74h2.8M84.40 46.52h1.6M84.40 43.30h1.6M84.40 40.08h1.6M84.40 36.86h1.6M84.40 33.64h1.6M84.40 30.42h1.6M84.40 27.20h1.6M84.40 23.98h2.8M84.40 20.76h1.6M84.40 17.54h1.6M84.40 14.32h1.6M84.40 11.10h1.6M84.40 7.88h1.6M84.40 4.66h1.6" stroke="#0028b8" stroke-width="1" fill="none"/>
<g class="k" font-size="9.3" fill="#111"><text x="107.0" y="216" text-anchor="middle">38</text><text x="136.7" y="216" text-anchor="middle">40</text><text x="166.3" y="216" text-anchor="middle">42</text><text x="196.0" y="216" text-anchor="middle">44</text><text x="225.6" y="216" text-anchor="middle">46</text><text x="255.3" y="216" text-anchor="middle">48</text><text x="80.7" y="181.6" text-anchor="end">2.0</text><text x="80.7" y="155.9" text-anchor="end">4.0</text><text x="80.7" y="130.1" text-anchor="end">6.0</text><text x="80.7" y="104.4" text-anchor="end">8.0</text><text x="80.7" y="78.6" text-anchor="end">10.0</text><text x="80.7" y="52.8" text-anchor="end">12.0</text><text x="80.7" y="27.1" text-anchor="end">14.0</text></g>
<rect x="286.5" y="4.5" width="200.5" height="200.0" fill="none" stroke="#222" stroke-width="1"/>
<path d="M286.50 204.50v-3.4M286.50 4.50v3.4M286.50 204.50h3.4M487.00 204.50h-3.4M294.52 204.50v-1.7M294.52 4.50v1.7M286.50 196.50h1.7M487.00 196.50h-1.7M302.54 204.50v-1.7M302.54 4.50v1.7M286.50 188.50h1.7M487.00 188.50h-1.7M310.56 204.50v-1.7M310.56 4.50v1.7M286.50 180.50h1.7M487.00 180.50h-1.7M318.58 204.50v-1.7M318.58 4.50v1.7M286.50 172.50h1.7M487.00 172.50h-1.7M326.60 204.50v-3.4M326.60 4.50v3.4M286.50 164.50h3.4M487.00 164.50h-3.4M334.62 204.50v-1.7M334.62 4.50v1.7M286.50 156.50h1.7M487.00 156.50h-1.7M342.64 204.50v-1.7M342.64 4.50v1.7M286.50 148.50h1.7M487.00 148.50h-1.7M350.66 204.50v-1.7M350.66 4.50v1.7M286.50 140.50h1.7M487.00 140.50h-1.7M358.68 204.50v-1.7M358.68 4.50v1.7M286.50 132.50h1.7M487.00 132.50h-1.7M366.70 204.50v-3.4M366.70 4.50v3.4M286.50 124.50h3.4M487.00 124.50h-3.4M374.72 204.50v-1.7M374.72 4.50v1.7M286.50 116.50h1.7M487.00 116.50h-1.7M382.74 204.50v-1.7M382.74 4.50v1.7M286.50 108.50h1.7M487.00 108.50h-1.7M390.76 204.50v-1.7M390.76 4.50v1.7M286.50 100.50h1.7M487.00 100.50h-1.7M398.78 204.50v-1.7M398.78 4.50v1.7M286.50 92.50h1.7M487.00 92.50h-1.7M406.80 204.50v-3.4M406.80 4.50v3.4M286.50 84.50h3.4M487.00 84.50h-3.4M414.82 204.50v-1.7M414.82 4.50v1.7M286.50 76.50h1.7M487.00 76.50h-1.7M422.84 204.50v-1.7M422.84 4.50v1.7M286.50 68.50h1.7M487.00 68.50h-1.7M430.86 204.50v-1.7M430.86 4.50v1.7M286.50 60.50h1.7M487.00 60.50h-1.7M438.88 204.50v-1.7M438.88 4.50v1.7M286.50 52.50h1.7M487.00 52.50h-1.7M446.90 204.50v-3.4M446.90 4.50v3.4M286.50 44.50h3.4M487.00 44.50h-3.4M454.92 204.50v-1.7M454.92 4.50v1.7M286.50 36.50h1.7M487.00 36.50h-1.7M462.94 204.50v-1.7M462.94 4.50v1.7M286.50 28.50h1.7M487.00 28.50h-1.7M470.96 204.50v-1.7M470.96 4.50v1.7M286.50 20.50h1.7M487.00 20.50h-1.7M478.98 204.50v-1.7M478.98 4.50v1.7M286.50 12.50h1.7M487.00 12.50h-1.7M487.00 204.50v-3.4M487.00 4.50v3.4M286.50 4.50h3.4M487.00 4.50h-3.4" stroke="#222" stroke-width="1" fill="none"/>
<g class="k" font-size="10" fill="#111"><text x="286.5" y="217" text-anchor="middle">0</text><text x="490.5" y="208.2">0</text><text x="326.6" y="217" text-anchor="middle">5</text><text x="490.5" y="168.2">5</text><text x="366.7" y="217" text-anchor="middle">10</text><text x="490.5" y="128.2">10</text><text x="406.8" y="217" text-anchor="middle">15</text><text x="490.5" y="88.2">15</text><text x="446.9" y="217" text-anchor="middle">20</text><text x="490.5" y="48.2">20</text><text x="487.0" y="217" text-anchor="middle">25</text><text x="490.5" y="8.2">25</text></g>
<path d="M298.2 4.5C298.2 7.9 298.1 20.8 298.1 25.0C298.1 29.2 297.9 28.4 298.2 30.0C298.5 31.6 298.8 33.1 299.7 34.7C300.6 36.3 301.4 38.0 303.8 39.6C306.2 41.2 309.8 42.9 313.8 44.6C317.8 46.3 323.7 47.9 327.8 49.6C331.9 51.3 336.1 53.0 338.6 54.6C341.1 56.2 342.0 58.2 342.6 59.5C343.2 60.8 343.3 61.2 342.5 62.5C341.7 63.8 339.6 65.5 338.0 67.2C336.4 68.9 334.3 70.8 333.0 72.5C331.7 74.2 331.0 75.4 330.4 77.5C329.8 79.6 329.8 81.2 329.6 85.0C329.5 88.8 329.5 94.2 329.5 100.0C329.5 105.8 329.7 111.7 329.8 120.0C329.9 128.3 330.0 141.7 330.0 150.0C330.0 158.3 329.8 163.3 329.8 170.0C329.9 176.7 330.1 185.8 330.3 190.0C330.5 194.2 330.6 193.5 331.2 195.0C331.8 196.5 332.1 197.8 333.6 199.0C335.1 200.2 337.1 201.2 340.0 202.0C342.9 202.8 349.4 203.3 351.3 203.6" stroke="#f2a636" stroke-width="1.15" fill="none"/>
<path d="M303.6 4.5C303.6 7.1 303.7 15.8 303.8 20.0C303.9 24.2 304.1 27.1 304.3 30.0C304.5 32.9 304.3 35.6 304.8 37.5C305.3 39.4 306.1 40.1 307.3 41.3C308.6 42.4 310.1 43.4 312.3 44.4C314.5 45.4 318.1 46.5 320.7 47.4C323.3 48.3 324.9 48.9 328.0 49.6C331.1 50.4 334.7 51.0 339.0 51.9C343.3 52.8 349.8 54.0 354.0 54.9C358.2 55.8 358.0 56.1 364.0 57.3C370.0 58.5 382.3 60.4 390.0 62.0C397.7 63.6 404.2 65.0 410.0 66.7C415.8 68.5 421.1 70.1 425.0 72.5C428.9 74.9 431.7 78.1 433.7 81.0C435.7 83.9 436.2 87.7 437.0 90.0C437.8 92.3 438.5 94.0 438.7 95.0C438.9 96.0 438.4 95.5 438.5 96.0C438.6 96.5 439.3 97.5 439.5 98.2C439.6 98.9 439.4 99.7 439.5 100.4C439.6 101.1 439.8 101.9 440.0 102.6C440.1 103.3 440.4 104.1 440.4 104.8C440.5 105.5 440.3 106.3 440.3 107.0C440.3 107.7 440.5 108.5 440.5 109.2C440.6 109.9 440.4 110.7 440.6 111.4C440.7 112.1 441.1 112.9 441.3 113.6C441.4 114.3 441.6 115.1 441.6 115.8C441.7 116.5 441.3 117.3 441.4 118.0C441.4 118.7 441.8 119.5 441.9 120.2C441.9 120.9 441.9 121.7 441.8 122.4C441.7 123.1 441.3 123.9 441.2 124.6C441.2 125.3 441.3 126.1 441.5 126.8C441.7 127.5 442.4 128.3 442.5 129.0C442.6 129.7 442.1 130.5 442.0 131.2C441.9 131.9 442.0 132.7 442.1 133.4C442.2 134.1 442.6 134.9 442.6 135.6C442.6 136.3 442.1 137.1 442.1 137.8C442.2 138.5 442.8 139.3 443.0 140.0C443.2 140.7 443.3 141.5 443.2 142.2C443.1 142.9 442.5 143.7 442.5 144.4C442.5 145.1 442.8 145.9 443.1 146.6C443.3 147.3 443.8 148.1 443.8 148.8C443.9 149.5 443.4 150.3 443.3 151.0C443.3 151.7 443.5 152.5 443.6 153.2C443.8 153.9 444.0 154.7 444.2 155.4C444.3 156.1 444.6 156.9 444.7 157.6C444.7 158.3 444.6 159.1 444.5 159.8C444.4 160.5 444.1 161.3 444.1 162.0C444.2 162.7 444.7 163.5 444.9 164.2C445.1 164.9 445.2 165.7 445.3 166.4C445.4 167.1 445.4 167.9 445.5 168.6C445.6 169.3 445.5 170.1 445.7 170.8C445.9 171.5 446.4 172.3 446.7 173.0C446.9 173.7 447.0 174.5 447.0 175.2C447.1 175.9 446.8 176.7 446.9 177.4C447.1 178.1 447.7 178.9 448.0 179.6C448.3 180.3 448.4 181.1 448.8 181.8C449.1 182.5 449.3 183.1 449.9 184.0C450.5 185.0 451.5 186.5 452.4 187.5C453.3 188.5 454.3 189.2 455.3 190.0C456.3 190.8 457.3 191.7 458.5 192.5C459.7 193.3 461.2 194.2 462.5 195.0C463.8 195.8 465.6 196.8 466.0 197.5C466.4 198.2 466.9 198.8 464.7 199.5C462.5 200.2 457.1 200.8 452.6 201.5C448.1 202.2 440.2 203.2 437.7 203.5" stroke="#1a335c" stroke-width="1.3" fill="none" stroke-linejoin="round"/>
<g class="k"><text x="0.5" y="11.8" font-size="10.9" fill="#111">cps</text>
<text x="51" y="15.5" font-size="11.3" fill="#111">a)</text>
<text x="466.5" y="24.5" font-size="11.3" fill="#111">b)</text>
<text x="385.6" y="56.6" font-size="11.5" fill="#111">Nitrogen</text>
<text x="332.8" y="105.8" font-size="11.4" fill="#111">Carbon</text>
<text x="195.2" y="232.3" font-size="13.3" fill="#111" text-anchor="middle">Angle 2θ (deg)</text>
<text x="387.4" y="237.2" font-size="13.4" fill="#111" text-anchor="middle">Concentration (at.%)</text>
<text transform="translate(51.2 112.8) rotate(-90)" font-size="13.4" fill="#111" text-anchor="middle">Etching Time (h)</text>
<text transform="translate(516.8 116.6) rotate(-90)" font-size="11.7" fill="#111" text-anchor="middle">Depth (μm)</text></g>
<g font-size="9.9" fill="#f4f8ff" letter-spacing="-0.14"><text x="285" y="38.3" text-anchor="end">Substrate</text><text x="283.5" y="64.6" text-anchor="end">Interface</text><text x="268.6" y="139.9" text-anchor="end">Bulk</text><text x="282.7" y="199.8" text-anchor="end">Surface</text></g>
</svg>
</body>
</html>
